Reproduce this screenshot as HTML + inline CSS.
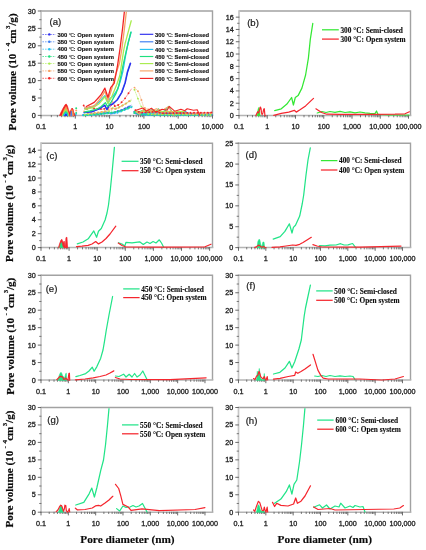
<!DOCTYPE html><html><head><meta charset="utf-8"><style>html,body{margin:0;padding:0;background:#fff}svg{display:block;will-change:transform}</style></head><body><svg width="426" height="550" viewBox="0 0 426 550">
<style>.tk{font:7.2px "Liberation Sans",sans-serif;fill:#222;stroke:#222;stroke-width:0.3}.pl{font:9.6px "Liberation Sans",sans-serif;fill:#1a1a1a;stroke:#1a1a1a;stroke-width:0.2}.lgs{font:bold 7.6px "Liberation Serif",serif;fill:#0a0a0a;stroke:#0a0a0a;stroke-width:0.1}.lga{font:bold 6.1px "Liberation Sans",sans-serif;fill:#111;stroke:#111;stroke-width:0.15}.deg{font-weight:normal;font-size:5px;fill:#444;letter-spacing:-0.4px}.ti{font:bold 11.1px "Liberation Serif",serif;fill:#0a0a0a;stroke:#0a0a0a;stroke-width:0.2}.ti .sup{font-size:7px}.xt{font:bold 11.3px "Liberation Serif",serif;fill:#0a0a0a;stroke:#0a0a0a;stroke-width:0.15}</style>
<rect width="426" height="550" fill="#fff"/>
<path d="M41,11H212.5V115.4" fill="none" stroke="#a2a2a2" stroke-width="1.4"/>
<path d="M41,10.15V115.4" fill="none" stroke="#c6c6c6" stroke-width="1.7"/>
<path d="M40.15,115.4H213.35" fill="none" stroke="#b4b4b4" stroke-width="1.5"/>
<line x1="37.8" y1="115.4" x2="41.4" y2="115.4" stroke="#5a5a5a" stroke-width="0.9"/>
<text x="35.7" y="117.9" text-anchor="end" class="tk">0</text>
<line x1="37.8" y1="98" x2="41.4" y2="98" stroke="#5a5a5a" stroke-width="0.9"/>
<text x="35.7" y="100.5" text-anchor="end" class="tk">5</text>
<line x1="37.8" y1="80.6" x2="41.4" y2="80.6" stroke="#5a5a5a" stroke-width="0.9"/>
<text x="35.7" y="83.1" text-anchor="end" class="tk">10</text>
<line x1="37.8" y1="63.2" x2="41.4" y2="63.2" stroke="#5a5a5a" stroke-width="0.9"/>
<text x="35.7" y="65.7" text-anchor="end" class="tk">15</text>
<line x1="37.8" y1="45.8" x2="41.4" y2="45.8" stroke="#5a5a5a" stroke-width="0.9"/>
<text x="35.7" y="48.3" text-anchor="end" class="tk">20</text>
<line x1="37.8" y1="28.4" x2="41.4" y2="28.4" stroke="#5a5a5a" stroke-width="0.9"/>
<text x="35.7" y="30.9" text-anchor="end" class="tk">25</text>
<line x1="37.8" y1="11" x2="41.4" y2="11" stroke="#5a5a5a" stroke-width="0.9"/>
<text x="35.7" y="13.5" text-anchor="end" class="tk">30</text>
<line x1="39.2" y1="106.7" x2="41.4" y2="106.7" stroke="#5a5a5a" stroke-width="0.8"/>
<line x1="39.2" y1="89.3" x2="41.4" y2="89.3" stroke="#5a5a5a" stroke-width="0.8"/>
<line x1="39.2" y1="71.9" x2="41.4" y2="71.9" stroke="#5a5a5a" stroke-width="0.8"/>
<line x1="39.2" y1="54.5" x2="41.4" y2="54.5" stroke="#5a5a5a" stroke-width="0.8"/>
<line x1="39.2" y1="37.1" x2="41.4" y2="37.1" stroke="#5a5a5a" stroke-width="0.8"/>
<line x1="39.2" y1="19.7" x2="41.4" y2="19.7" stroke="#5a5a5a" stroke-width="0.8"/>
<line x1="41" y1="115" x2="41" y2="118.6" stroke="#5a5a5a" stroke-width="0.9"/>
<text x="41" y="129" text-anchor="middle" class="tk">0.1</text>
<line x1="51.33" y1="115" x2="51.33" y2="117.2" stroke="#5a5a5a" stroke-width="0.8"/>
<line x1="57.37" y1="115" x2="57.37" y2="117.2" stroke="#5a5a5a" stroke-width="0.8"/>
<line x1="61.65" y1="115" x2="61.65" y2="117.2" stroke="#5a5a5a" stroke-width="0.8"/>
<line x1="64.97" y1="115" x2="64.97" y2="117.2" stroke="#5a5a5a" stroke-width="0.8"/>
<line x1="67.69" y1="115" x2="67.69" y2="117.2" stroke="#5a5a5a" stroke-width="0.8"/>
<line x1="69.99" y1="115" x2="69.99" y2="117.2" stroke="#5a5a5a" stroke-width="0.8"/>
<line x1="71.98" y1="115" x2="71.98" y2="117.2" stroke="#5a5a5a" stroke-width="0.8"/>
<line x1="73.73" y1="115" x2="73.73" y2="117.2" stroke="#5a5a5a" stroke-width="0.8"/>
<line x1="75.3" y1="115" x2="75.3" y2="118.6" stroke="#5a5a5a" stroke-width="0.9"/>
<text x="75.3" y="129" text-anchor="middle" class="tk">1</text>
<line x1="85.63" y1="115" x2="85.63" y2="117.2" stroke="#5a5a5a" stroke-width="0.8"/>
<line x1="91.67" y1="115" x2="91.67" y2="117.2" stroke="#5a5a5a" stroke-width="0.8"/>
<line x1="95.95" y1="115" x2="95.95" y2="117.2" stroke="#5a5a5a" stroke-width="0.8"/>
<line x1="99.27" y1="115" x2="99.27" y2="117.2" stroke="#5a5a5a" stroke-width="0.8"/>
<line x1="101.99" y1="115" x2="101.99" y2="117.2" stroke="#5a5a5a" stroke-width="0.8"/>
<line x1="104.29" y1="115" x2="104.29" y2="117.2" stroke="#5a5a5a" stroke-width="0.8"/>
<line x1="106.28" y1="115" x2="106.28" y2="117.2" stroke="#5a5a5a" stroke-width="0.8"/>
<line x1="108.03" y1="115" x2="108.03" y2="117.2" stroke="#5a5a5a" stroke-width="0.8"/>
<line x1="109.6" y1="115" x2="109.6" y2="118.6" stroke="#5a5a5a" stroke-width="0.9"/>
<text x="109.6" y="129" text-anchor="middle" class="tk">10</text>
<line x1="119.93" y1="115" x2="119.93" y2="117.2" stroke="#5a5a5a" stroke-width="0.8"/>
<line x1="125.97" y1="115" x2="125.97" y2="117.2" stroke="#5a5a5a" stroke-width="0.8"/>
<line x1="130.25" y1="115" x2="130.25" y2="117.2" stroke="#5a5a5a" stroke-width="0.8"/>
<line x1="133.57" y1="115" x2="133.57" y2="117.2" stroke="#5a5a5a" stroke-width="0.8"/>
<line x1="136.29" y1="115" x2="136.29" y2="117.2" stroke="#5a5a5a" stroke-width="0.8"/>
<line x1="138.59" y1="115" x2="138.59" y2="117.2" stroke="#5a5a5a" stroke-width="0.8"/>
<line x1="140.58" y1="115" x2="140.58" y2="117.2" stroke="#5a5a5a" stroke-width="0.8"/>
<line x1="142.33" y1="115" x2="142.33" y2="117.2" stroke="#5a5a5a" stroke-width="0.8"/>
<line x1="143.9" y1="115" x2="143.9" y2="118.6" stroke="#5a5a5a" stroke-width="0.9"/>
<text x="143.9" y="129" text-anchor="middle" class="tk">100</text>
<line x1="154.23" y1="115" x2="154.23" y2="117.2" stroke="#5a5a5a" stroke-width="0.8"/>
<line x1="160.27" y1="115" x2="160.27" y2="117.2" stroke="#5a5a5a" stroke-width="0.8"/>
<line x1="164.55" y1="115" x2="164.55" y2="117.2" stroke="#5a5a5a" stroke-width="0.8"/>
<line x1="167.87" y1="115" x2="167.87" y2="117.2" stroke="#5a5a5a" stroke-width="0.8"/>
<line x1="170.59" y1="115" x2="170.59" y2="117.2" stroke="#5a5a5a" stroke-width="0.8"/>
<line x1="172.89" y1="115" x2="172.89" y2="117.2" stroke="#5a5a5a" stroke-width="0.8"/>
<line x1="174.88" y1="115" x2="174.88" y2="117.2" stroke="#5a5a5a" stroke-width="0.8"/>
<line x1="176.63" y1="115" x2="176.63" y2="117.2" stroke="#5a5a5a" stroke-width="0.8"/>
<line x1="178.2" y1="115" x2="178.2" y2="118.6" stroke="#5a5a5a" stroke-width="0.9"/>
<text x="178.2" y="129" text-anchor="middle" class="tk">1,000</text>
<line x1="188.53" y1="115" x2="188.53" y2="117.2" stroke="#5a5a5a" stroke-width="0.8"/>
<line x1="194.57" y1="115" x2="194.57" y2="117.2" stroke="#5a5a5a" stroke-width="0.8"/>
<line x1="198.85" y1="115" x2="198.85" y2="117.2" stroke="#5a5a5a" stroke-width="0.8"/>
<line x1="202.17" y1="115" x2="202.17" y2="117.2" stroke="#5a5a5a" stroke-width="0.8"/>
<line x1="204.89" y1="115" x2="204.89" y2="117.2" stroke="#5a5a5a" stroke-width="0.8"/>
<line x1="207.19" y1="115" x2="207.19" y2="117.2" stroke="#5a5a5a" stroke-width="0.8"/>
<line x1="209.18" y1="115" x2="209.18" y2="117.2" stroke="#5a5a5a" stroke-width="0.8"/>
<line x1="210.93" y1="115" x2="210.93" y2="117.2" stroke="#5a5a5a" stroke-width="0.8"/>
<line x1="212.5" y1="115" x2="212.5" y2="118.6" stroke="#5a5a5a" stroke-width="0.9"/>
<text x="212.5" y="129" text-anchor="middle" class="tk">10,000</text>
<path d="M239,11H410.5V115.5" fill="none" stroke="#a2a2a2" stroke-width="1.4"/>
<path d="M239,10.15V115.5" fill="none" stroke="#c6c6c6" stroke-width="1.7"/>
<path d="M238.15,115.5H411.35" fill="none" stroke="#b4b4b4" stroke-width="1.5"/>
<line x1="235.8" y1="115.5" x2="239.4" y2="115.5" stroke="#5a5a5a" stroke-width="0.9"/>
<text x="233.7" y="118" text-anchor="end" class="tk">0</text>
<line x1="235.8" y1="103.21" x2="239.4" y2="103.21" stroke="#5a5a5a" stroke-width="0.9"/>
<text x="233.7" y="105.71" text-anchor="end" class="tk">2</text>
<line x1="235.8" y1="90.91" x2="239.4" y2="90.91" stroke="#5a5a5a" stroke-width="0.9"/>
<text x="233.7" y="93.41" text-anchor="end" class="tk">4</text>
<line x1="235.8" y1="78.62" x2="239.4" y2="78.62" stroke="#5a5a5a" stroke-width="0.9"/>
<text x="233.7" y="81.12" text-anchor="end" class="tk">6</text>
<line x1="235.8" y1="66.32" x2="239.4" y2="66.32" stroke="#5a5a5a" stroke-width="0.9"/>
<text x="233.7" y="68.82" text-anchor="end" class="tk">8</text>
<line x1="235.8" y1="54.03" x2="239.4" y2="54.03" stroke="#5a5a5a" stroke-width="0.9"/>
<text x="233.7" y="56.53" text-anchor="end" class="tk">10</text>
<line x1="235.8" y1="41.74" x2="239.4" y2="41.74" stroke="#5a5a5a" stroke-width="0.9"/>
<text x="233.7" y="44.24" text-anchor="end" class="tk">12</text>
<line x1="235.8" y1="29.44" x2="239.4" y2="29.44" stroke="#5a5a5a" stroke-width="0.9"/>
<text x="233.7" y="31.94" text-anchor="end" class="tk">14</text>
<line x1="235.8" y1="17.15" x2="239.4" y2="17.15" stroke="#5a5a5a" stroke-width="0.9"/>
<text x="233.7" y="19.65" text-anchor="end" class="tk">16</text>
<line x1="237.2" y1="109.35" x2="239.4" y2="109.35" stroke="#5a5a5a" stroke-width="0.8"/>
<line x1="237.2" y1="97.06" x2="239.4" y2="97.06" stroke="#5a5a5a" stroke-width="0.8"/>
<line x1="237.2" y1="84.76" x2="239.4" y2="84.76" stroke="#5a5a5a" stroke-width="0.8"/>
<line x1="237.2" y1="72.47" x2="239.4" y2="72.47" stroke="#5a5a5a" stroke-width="0.8"/>
<line x1="237.2" y1="60.18" x2="239.4" y2="60.18" stroke="#5a5a5a" stroke-width="0.8"/>
<line x1="237.2" y1="47.88" x2="239.4" y2="47.88" stroke="#5a5a5a" stroke-width="0.8"/>
<line x1="237.2" y1="35.59" x2="239.4" y2="35.59" stroke="#5a5a5a" stroke-width="0.8"/>
<line x1="237.2" y1="23.29" x2="239.4" y2="23.29" stroke="#5a5a5a" stroke-width="0.8"/>
<line x1="239" y1="115.1" x2="239" y2="118.7" stroke="#5a5a5a" stroke-width="0.9"/>
<text x="239" y="129.1" text-anchor="middle" class="tk">0.1</text>
<line x1="247.5" y1="115.1" x2="247.5" y2="117.3" stroke="#5a5a5a" stroke-width="0.8"/>
<line x1="252.48" y1="115.1" x2="252.48" y2="117.3" stroke="#5a5a5a" stroke-width="0.8"/>
<line x1="256.01" y1="115.1" x2="256.01" y2="117.3" stroke="#5a5a5a" stroke-width="0.8"/>
<line x1="258.75" y1="115.1" x2="258.75" y2="117.3" stroke="#5a5a5a" stroke-width="0.8"/>
<line x1="260.98" y1="115.1" x2="260.98" y2="117.3" stroke="#5a5a5a" stroke-width="0.8"/>
<line x1="262.87" y1="115.1" x2="262.87" y2="117.3" stroke="#5a5a5a" stroke-width="0.8"/>
<line x1="264.51" y1="115.1" x2="264.51" y2="117.3" stroke="#5a5a5a" stroke-width="0.8"/>
<line x1="265.96" y1="115.1" x2="265.96" y2="117.3" stroke="#5a5a5a" stroke-width="0.8"/>
<line x1="267.25" y1="115.1" x2="267.25" y2="118.7" stroke="#5a5a5a" stroke-width="0.9"/>
<text x="267.25" y="129.1" text-anchor="middle" class="tk">1</text>
<line x1="275.75" y1="115.1" x2="275.75" y2="117.3" stroke="#5a5a5a" stroke-width="0.8"/>
<line x1="280.73" y1="115.1" x2="280.73" y2="117.3" stroke="#5a5a5a" stroke-width="0.8"/>
<line x1="284.26" y1="115.1" x2="284.26" y2="117.3" stroke="#5a5a5a" stroke-width="0.8"/>
<line x1="287" y1="115.1" x2="287" y2="117.3" stroke="#5a5a5a" stroke-width="0.8"/>
<line x1="289.23" y1="115.1" x2="289.23" y2="117.3" stroke="#5a5a5a" stroke-width="0.8"/>
<line x1="291.12" y1="115.1" x2="291.12" y2="117.3" stroke="#5a5a5a" stroke-width="0.8"/>
<line x1="292.76" y1="115.1" x2="292.76" y2="117.3" stroke="#5a5a5a" stroke-width="0.8"/>
<line x1="294.21" y1="115.1" x2="294.21" y2="117.3" stroke="#5a5a5a" stroke-width="0.8"/>
<line x1="295.5" y1="115.1" x2="295.5" y2="118.7" stroke="#5a5a5a" stroke-width="0.9"/>
<text x="295.5" y="129.1" text-anchor="middle" class="tk">10</text>
<line x1="304" y1="115.1" x2="304" y2="117.3" stroke="#5a5a5a" stroke-width="0.8"/>
<line x1="308.98" y1="115.1" x2="308.98" y2="117.3" stroke="#5a5a5a" stroke-width="0.8"/>
<line x1="312.51" y1="115.1" x2="312.51" y2="117.3" stroke="#5a5a5a" stroke-width="0.8"/>
<line x1="315.25" y1="115.1" x2="315.25" y2="117.3" stroke="#5a5a5a" stroke-width="0.8"/>
<line x1="317.48" y1="115.1" x2="317.48" y2="117.3" stroke="#5a5a5a" stroke-width="0.8"/>
<line x1="319.37" y1="115.1" x2="319.37" y2="117.3" stroke="#5a5a5a" stroke-width="0.8"/>
<line x1="321.01" y1="115.1" x2="321.01" y2="117.3" stroke="#5a5a5a" stroke-width="0.8"/>
<line x1="322.46" y1="115.1" x2="322.46" y2="117.3" stroke="#5a5a5a" stroke-width="0.8"/>
<line x1="323.75" y1="115.1" x2="323.75" y2="118.7" stroke="#5a5a5a" stroke-width="0.9"/>
<text x="323.75" y="129.1" text-anchor="middle" class="tk">100</text>
<line x1="332.25" y1="115.1" x2="332.25" y2="117.3" stroke="#5a5a5a" stroke-width="0.8"/>
<line x1="337.23" y1="115.1" x2="337.23" y2="117.3" stroke="#5a5a5a" stroke-width="0.8"/>
<line x1="340.76" y1="115.1" x2="340.76" y2="117.3" stroke="#5a5a5a" stroke-width="0.8"/>
<line x1="343.5" y1="115.1" x2="343.5" y2="117.3" stroke="#5a5a5a" stroke-width="0.8"/>
<line x1="345.73" y1="115.1" x2="345.73" y2="117.3" stroke="#5a5a5a" stroke-width="0.8"/>
<line x1="347.62" y1="115.1" x2="347.62" y2="117.3" stroke="#5a5a5a" stroke-width="0.8"/>
<line x1="349.26" y1="115.1" x2="349.26" y2="117.3" stroke="#5a5a5a" stroke-width="0.8"/>
<line x1="350.71" y1="115.1" x2="350.71" y2="117.3" stroke="#5a5a5a" stroke-width="0.8"/>
<line x1="352" y1="115.1" x2="352" y2="118.7" stroke="#5a5a5a" stroke-width="0.9"/>
<text x="352" y="129.1" text-anchor="middle" class="tk">1,000</text>
<line x1="360.5" y1="115.1" x2="360.5" y2="117.3" stroke="#5a5a5a" stroke-width="0.8"/>
<line x1="365.48" y1="115.1" x2="365.48" y2="117.3" stroke="#5a5a5a" stroke-width="0.8"/>
<line x1="369.01" y1="115.1" x2="369.01" y2="117.3" stroke="#5a5a5a" stroke-width="0.8"/>
<line x1="371.75" y1="115.1" x2="371.75" y2="117.3" stroke="#5a5a5a" stroke-width="0.8"/>
<line x1="373.98" y1="115.1" x2="373.98" y2="117.3" stroke="#5a5a5a" stroke-width="0.8"/>
<line x1="375.87" y1="115.1" x2="375.87" y2="117.3" stroke="#5a5a5a" stroke-width="0.8"/>
<line x1="377.51" y1="115.1" x2="377.51" y2="117.3" stroke="#5a5a5a" stroke-width="0.8"/>
<line x1="378.96" y1="115.1" x2="378.96" y2="117.3" stroke="#5a5a5a" stroke-width="0.8"/>
<line x1="380.25" y1="115.1" x2="380.25" y2="118.7" stroke="#5a5a5a" stroke-width="0.9"/>
<text x="380.25" y="129.1" text-anchor="middle" class="tk">10,000</text>
<line x1="388.75" y1="115.1" x2="388.75" y2="117.3" stroke="#5a5a5a" stroke-width="0.8"/>
<line x1="393.73" y1="115.1" x2="393.73" y2="117.3" stroke="#5a5a5a" stroke-width="0.8"/>
<line x1="397.26" y1="115.1" x2="397.26" y2="117.3" stroke="#5a5a5a" stroke-width="0.8"/>
<line x1="400" y1="115.1" x2="400" y2="117.3" stroke="#5a5a5a" stroke-width="0.8"/>
<line x1="402.23" y1="115.1" x2="402.23" y2="117.3" stroke="#5a5a5a" stroke-width="0.8"/>
<line x1="404.12" y1="115.1" x2="404.12" y2="117.3" stroke="#5a5a5a" stroke-width="0.8"/>
<line x1="405.76" y1="115.1" x2="405.76" y2="117.3" stroke="#5a5a5a" stroke-width="0.8"/>
<line x1="407.21" y1="115.1" x2="407.21" y2="117.3" stroke="#5a5a5a" stroke-width="0.8"/>
<line x1="408.5" y1="115.1" x2="408.5" y2="118.7" stroke="#5a5a5a" stroke-width="0.9"/>
<text x="408.5" y="129.1" text-anchor="middle" class="tk">100,000</text>
<path d="M41,143.2H212.5V247.6" fill="none" stroke="#a2a2a2" stroke-width="1.4"/>
<path d="M41,142.35V247.6" fill="none" stroke="#c6c6c6" stroke-width="1.7"/>
<path d="M40.15,247.6H213.35" fill="none" stroke="#b4b4b4" stroke-width="1.5"/>
<line x1="37.8" y1="247.6" x2="41.4" y2="247.6" stroke="#5a5a5a" stroke-width="0.9"/>
<text x="35.7" y="250.1" text-anchor="end" class="tk">0</text>
<line x1="37.8" y1="233.68" x2="41.4" y2="233.68" stroke="#5a5a5a" stroke-width="0.9"/>
<text x="35.7" y="236.18" text-anchor="end" class="tk">2</text>
<line x1="37.8" y1="219.76" x2="41.4" y2="219.76" stroke="#5a5a5a" stroke-width="0.9"/>
<text x="35.7" y="222.26" text-anchor="end" class="tk">4</text>
<line x1="37.8" y1="205.84" x2="41.4" y2="205.84" stroke="#5a5a5a" stroke-width="0.9"/>
<text x="35.7" y="208.34" text-anchor="end" class="tk">6</text>
<line x1="37.8" y1="191.92" x2="41.4" y2="191.92" stroke="#5a5a5a" stroke-width="0.9"/>
<text x="35.7" y="194.42" text-anchor="end" class="tk">8</text>
<line x1="37.8" y1="178" x2="41.4" y2="178" stroke="#5a5a5a" stroke-width="0.9"/>
<text x="35.7" y="180.5" text-anchor="end" class="tk">10</text>
<line x1="37.8" y1="164.08" x2="41.4" y2="164.08" stroke="#5a5a5a" stroke-width="0.9"/>
<text x="35.7" y="166.58" text-anchor="end" class="tk">12</text>
<line x1="37.8" y1="150.16" x2="41.4" y2="150.16" stroke="#5a5a5a" stroke-width="0.9"/>
<text x="35.7" y="152.66" text-anchor="end" class="tk">14</text>
<line x1="39.2" y1="240.64" x2="41.4" y2="240.64" stroke="#5a5a5a" stroke-width="0.8"/>
<line x1="39.2" y1="226.72" x2="41.4" y2="226.72" stroke="#5a5a5a" stroke-width="0.8"/>
<line x1="39.2" y1="212.8" x2="41.4" y2="212.8" stroke="#5a5a5a" stroke-width="0.8"/>
<line x1="39.2" y1="198.88" x2="41.4" y2="198.88" stroke="#5a5a5a" stroke-width="0.8"/>
<line x1="39.2" y1="184.96" x2="41.4" y2="184.96" stroke="#5a5a5a" stroke-width="0.8"/>
<line x1="39.2" y1="171.04" x2="41.4" y2="171.04" stroke="#5a5a5a" stroke-width="0.8"/>
<line x1="39.2" y1="157.12" x2="41.4" y2="157.12" stroke="#5a5a5a" stroke-width="0.8"/>
<line x1="41" y1="247.2" x2="41" y2="250.8" stroke="#5a5a5a" stroke-width="0.9"/>
<text x="41" y="261.2" text-anchor="middle" class="tk">0.1</text>
<line x1="49.46" y1="247.2" x2="49.46" y2="249.4" stroke="#5a5a5a" stroke-width="0.8"/>
<line x1="54.41" y1="247.2" x2="54.41" y2="249.4" stroke="#5a5a5a" stroke-width="0.8"/>
<line x1="57.92" y1="247.2" x2="57.92" y2="249.4" stroke="#5a5a5a" stroke-width="0.8"/>
<line x1="60.64" y1="247.2" x2="60.64" y2="249.4" stroke="#5a5a5a" stroke-width="0.8"/>
<line x1="62.87" y1="247.2" x2="62.87" y2="249.4" stroke="#5a5a5a" stroke-width="0.8"/>
<line x1="64.75" y1="247.2" x2="64.75" y2="249.4" stroke="#5a5a5a" stroke-width="0.8"/>
<line x1="66.38" y1="247.2" x2="66.38" y2="249.4" stroke="#5a5a5a" stroke-width="0.8"/>
<line x1="67.81" y1="247.2" x2="67.81" y2="249.4" stroke="#5a5a5a" stroke-width="0.8"/>
<line x1="69.1" y1="247.2" x2="69.1" y2="250.8" stroke="#5a5a5a" stroke-width="0.9"/>
<text x="69.1" y="261.2" text-anchor="middle" class="tk">1</text>
<line x1="77.56" y1="247.2" x2="77.56" y2="249.4" stroke="#5a5a5a" stroke-width="0.8"/>
<line x1="82.51" y1="247.2" x2="82.51" y2="249.4" stroke="#5a5a5a" stroke-width="0.8"/>
<line x1="86.02" y1="247.2" x2="86.02" y2="249.4" stroke="#5a5a5a" stroke-width="0.8"/>
<line x1="88.74" y1="247.2" x2="88.74" y2="249.4" stroke="#5a5a5a" stroke-width="0.8"/>
<line x1="90.97" y1="247.2" x2="90.97" y2="249.4" stroke="#5a5a5a" stroke-width="0.8"/>
<line x1="92.85" y1="247.2" x2="92.85" y2="249.4" stroke="#5a5a5a" stroke-width="0.8"/>
<line x1="94.48" y1="247.2" x2="94.48" y2="249.4" stroke="#5a5a5a" stroke-width="0.8"/>
<line x1="95.91" y1="247.2" x2="95.91" y2="249.4" stroke="#5a5a5a" stroke-width="0.8"/>
<line x1="97.2" y1="247.2" x2="97.2" y2="250.8" stroke="#5a5a5a" stroke-width="0.9"/>
<text x="97.2" y="261.2" text-anchor="middle" class="tk">10</text>
<line x1="105.66" y1="247.2" x2="105.66" y2="249.4" stroke="#5a5a5a" stroke-width="0.8"/>
<line x1="110.61" y1="247.2" x2="110.61" y2="249.4" stroke="#5a5a5a" stroke-width="0.8"/>
<line x1="114.12" y1="247.2" x2="114.12" y2="249.4" stroke="#5a5a5a" stroke-width="0.8"/>
<line x1="116.84" y1="247.2" x2="116.84" y2="249.4" stroke="#5a5a5a" stroke-width="0.8"/>
<line x1="119.07" y1="247.2" x2="119.07" y2="249.4" stroke="#5a5a5a" stroke-width="0.8"/>
<line x1="120.95" y1="247.2" x2="120.95" y2="249.4" stroke="#5a5a5a" stroke-width="0.8"/>
<line x1="122.58" y1="247.2" x2="122.58" y2="249.4" stroke="#5a5a5a" stroke-width="0.8"/>
<line x1="124.01" y1="247.2" x2="124.01" y2="249.4" stroke="#5a5a5a" stroke-width="0.8"/>
<line x1="125.3" y1="247.2" x2="125.3" y2="250.8" stroke="#5a5a5a" stroke-width="0.9"/>
<text x="125.3" y="261.2" text-anchor="middle" class="tk">100</text>
<line x1="133.76" y1="247.2" x2="133.76" y2="249.4" stroke="#5a5a5a" stroke-width="0.8"/>
<line x1="138.71" y1="247.2" x2="138.71" y2="249.4" stroke="#5a5a5a" stroke-width="0.8"/>
<line x1="142.22" y1="247.2" x2="142.22" y2="249.4" stroke="#5a5a5a" stroke-width="0.8"/>
<line x1="144.94" y1="247.2" x2="144.94" y2="249.4" stroke="#5a5a5a" stroke-width="0.8"/>
<line x1="147.17" y1="247.2" x2="147.17" y2="249.4" stroke="#5a5a5a" stroke-width="0.8"/>
<line x1="149.05" y1="247.2" x2="149.05" y2="249.4" stroke="#5a5a5a" stroke-width="0.8"/>
<line x1="150.68" y1="247.2" x2="150.68" y2="249.4" stroke="#5a5a5a" stroke-width="0.8"/>
<line x1="152.11" y1="247.2" x2="152.11" y2="249.4" stroke="#5a5a5a" stroke-width="0.8"/>
<line x1="153.4" y1="247.2" x2="153.4" y2="250.8" stroke="#5a5a5a" stroke-width="0.9"/>
<text x="153.4" y="261.2" text-anchor="middle" class="tk">1,000</text>
<line x1="161.86" y1="247.2" x2="161.86" y2="249.4" stroke="#5a5a5a" stroke-width="0.8"/>
<line x1="166.81" y1="247.2" x2="166.81" y2="249.4" stroke="#5a5a5a" stroke-width="0.8"/>
<line x1="170.32" y1="247.2" x2="170.32" y2="249.4" stroke="#5a5a5a" stroke-width="0.8"/>
<line x1="173.04" y1="247.2" x2="173.04" y2="249.4" stroke="#5a5a5a" stroke-width="0.8"/>
<line x1="175.27" y1="247.2" x2="175.27" y2="249.4" stroke="#5a5a5a" stroke-width="0.8"/>
<line x1="177.15" y1="247.2" x2="177.15" y2="249.4" stroke="#5a5a5a" stroke-width="0.8"/>
<line x1="178.78" y1="247.2" x2="178.78" y2="249.4" stroke="#5a5a5a" stroke-width="0.8"/>
<line x1="180.21" y1="247.2" x2="180.21" y2="249.4" stroke="#5a5a5a" stroke-width="0.8"/>
<line x1="181.5" y1="247.2" x2="181.5" y2="250.8" stroke="#5a5a5a" stroke-width="0.9"/>
<text x="181.5" y="261.2" text-anchor="middle" class="tk">10,000</text>
<line x1="189.96" y1="247.2" x2="189.96" y2="249.4" stroke="#5a5a5a" stroke-width="0.8"/>
<line x1="194.91" y1="247.2" x2="194.91" y2="249.4" stroke="#5a5a5a" stroke-width="0.8"/>
<line x1="198.42" y1="247.2" x2="198.42" y2="249.4" stroke="#5a5a5a" stroke-width="0.8"/>
<line x1="201.14" y1="247.2" x2="201.14" y2="249.4" stroke="#5a5a5a" stroke-width="0.8"/>
<line x1="203.37" y1="247.2" x2="203.37" y2="249.4" stroke="#5a5a5a" stroke-width="0.8"/>
<line x1="205.25" y1="247.2" x2="205.25" y2="249.4" stroke="#5a5a5a" stroke-width="0.8"/>
<line x1="206.88" y1="247.2" x2="206.88" y2="249.4" stroke="#5a5a5a" stroke-width="0.8"/>
<line x1="208.31" y1="247.2" x2="208.31" y2="249.4" stroke="#5a5a5a" stroke-width="0.8"/>
<line x1="209.6" y1="247.2" x2="209.6" y2="250.8" stroke="#5a5a5a" stroke-width="0.9"/>
<text x="209.6" y="261.2" text-anchor="middle" class="tk">100,000</text>
<path d="M238.5,143.2H410.5V247.6" fill="none" stroke="#a2a2a2" stroke-width="1.4"/>
<path d="M238.5,142.35V247.6" fill="none" stroke="#c6c6c6" stroke-width="1.7"/>
<path d="M237.65,247.6H411.35" fill="none" stroke="#b4b4b4" stroke-width="1.5"/>
<line x1="235.3" y1="247.6" x2="238.9" y2="247.6" stroke="#5a5a5a" stroke-width="0.9"/>
<text x="233.2" y="250.1" text-anchor="end" class="tk">0</text>
<line x1="235.3" y1="226.72" x2="238.9" y2="226.72" stroke="#5a5a5a" stroke-width="0.9"/>
<text x="233.2" y="229.22" text-anchor="end" class="tk">5</text>
<line x1="235.3" y1="205.84" x2="238.9" y2="205.84" stroke="#5a5a5a" stroke-width="0.9"/>
<text x="233.2" y="208.34" text-anchor="end" class="tk">10</text>
<line x1="235.3" y1="184.96" x2="238.9" y2="184.96" stroke="#5a5a5a" stroke-width="0.9"/>
<text x="233.2" y="187.46" text-anchor="end" class="tk">15</text>
<line x1="235.3" y1="164.08" x2="238.9" y2="164.08" stroke="#5a5a5a" stroke-width="0.9"/>
<text x="233.2" y="166.58" text-anchor="end" class="tk">20</text>
<line x1="235.3" y1="143.2" x2="238.9" y2="143.2" stroke="#5a5a5a" stroke-width="0.9"/>
<text x="233.2" y="145.7" text-anchor="end" class="tk">25</text>
<line x1="236.7" y1="237.16" x2="238.9" y2="237.16" stroke="#5a5a5a" stroke-width="0.8"/>
<line x1="236.7" y1="216.28" x2="238.9" y2="216.28" stroke="#5a5a5a" stroke-width="0.8"/>
<line x1="236.7" y1="195.4" x2="238.9" y2="195.4" stroke="#5a5a5a" stroke-width="0.8"/>
<line x1="236.7" y1="174.52" x2="238.9" y2="174.52" stroke="#5a5a5a" stroke-width="0.8"/>
<line x1="236.7" y1="153.64" x2="238.9" y2="153.64" stroke="#5a5a5a" stroke-width="0.8"/>
<line x1="238.5" y1="247.2" x2="238.5" y2="250.8" stroke="#5a5a5a" stroke-width="0.9"/>
<text x="238.5" y="261.2" text-anchor="middle" class="tk">0.1</text>
<line x1="246.73" y1="247.2" x2="246.73" y2="249.4" stroke="#5a5a5a" stroke-width="0.8"/>
<line x1="251.54" y1="247.2" x2="251.54" y2="249.4" stroke="#5a5a5a" stroke-width="0.8"/>
<line x1="254.95" y1="247.2" x2="254.95" y2="249.4" stroke="#5a5a5a" stroke-width="0.8"/>
<line x1="257.6" y1="247.2" x2="257.6" y2="249.4" stroke="#5a5a5a" stroke-width="0.8"/>
<line x1="259.77" y1="247.2" x2="259.77" y2="249.4" stroke="#5a5a5a" stroke-width="0.8"/>
<line x1="261.6" y1="247.2" x2="261.6" y2="249.4" stroke="#5a5a5a" stroke-width="0.8"/>
<line x1="263.18" y1="247.2" x2="263.18" y2="249.4" stroke="#5a5a5a" stroke-width="0.8"/>
<line x1="264.58" y1="247.2" x2="264.58" y2="249.4" stroke="#5a5a5a" stroke-width="0.8"/>
<line x1="265.83" y1="247.2" x2="265.83" y2="250.8" stroke="#5a5a5a" stroke-width="0.9"/>
<text x="265.83" y="261.2" text-anchor="middle" class="tk">1</text>
<line x1="274.06" y1="247.2" x2="274.06" y2="249.4" stroke="#5a5a5a" stroke-width="0.8"/>
<line x1="278.87" y1="247.2" x2="278.87" y2="249.4" stroke="#5a5a5a" stroke-width="0.8"/>
<line x1="282.28" y1="247.2" x2="282.28" y2="249.4" stroke="#5a5a5a" stroke-width="0.8"/>
<line x1="284.93" y1="247.2" x2="284.93" y2="249.4" stroke="#5a5a5a" stroke-width="0.8"/>
<line x1="287.1" y1="247.2" x2="287.1" y2="249.4" stroke="#5a5a5a" stroke-width="0.8"/>
<line x1="288.93" y1="247.2" x2="288.93" y2="249.4" stroke="#5a5a5a" stroke-width="0.8"/>
<line x1="290.51" y1="247.2" x2="290.51" y2="249.4" stroke="#5a5a5a" stroke-width="0.8"/>
<line x1="291.91" y1="247.2" x2="291.91" y2="249.4" stroke="#5a5a5a" stroke-width="0.8"/>
<line x1="293.16" y1="247.2" x2="293.16" y2="250.8" stroke="#5a5a5a" stroke-width="0.9"/>
<text x="293.16" y="261.2" text-anchor="middle" class="tk">10</text>
<line x1="301.39" y1="247.2" x2="301.39" y2="249.4" stroke="#5a5a5a" stroke-width="0.8"/>
<line x1="306.2" y1="247.2" x2="306.2" y2="249.4" stroke="#5a5a5a" stroke-width="0.8"/>
<line x1="309.61" y1="247.2" x2="309.61" y2="249.4" stroke="#5a5a5a" stroke-width="0.8"/>
<line x1="312.26" y1="247.2" x2="312.26" y2="249.4" stroke="#5a5a5a" stroke-width="0.8"/>
<line x1="314.43" y1="247.2" x2="314.43" y2="249.4" stroke="#5a5a5a" stroke-width="0.8"/>
<line x1="316.26" y1="247.2" x2="316.26" y2="249.4" stroke="#5a5a5a" stroke-width="0.8"/>
<line x1="317.84" y1="247.2" x2="317.84" y2="249.4" stroke="#5a5a5a" stroke-width="0.8"/>
<line x1="319.24" y1="247.2" x2="319.24" y2="249.4" stroke="#5a5a5a" stroke-width="0.8"/>
<line x1="320.49" y1="247.2" x2="320.49" y2="250.8" stroke="#5a5a5a" stroke-width="0.9"/>
<text x="320.49" y="261.2" text-anchor="middle" class="tk">100</text>
<line x1="328.72" y1="247.2" x2="328.72" y2="249.4" stroke="#5a5a5a" stroke-width="0.8"/>
<line x1="333.53" y1="247.2" x2="333.53" y2="249.4" stroke="#5a5a5a" stroke-width="0.8"/>
<line x1="336.94" y1="247.2" x2="336.94" y2="249.4" stroke="#5a5a5a" stroke-width="0.8"/>
<line x1="339.59" y1="247.2" x2="339.59" y2="249.4" stroke="#5a5a5a" stroke-width="0.8"/>
<line x1="341.76" y1="247.2" x2="341.76" y2="249.4" stroke="#5a5a5a" stroke-width="0.8"/>
<line x1="343.59" y1="247.2" x2="343.59" y2="249.4" stroke="#5a5a5a" stroke-width="0.8"/>
<line x1="345.17" y1="247.2" x2="345.17" y2="249.4" stroke="#5a5a5a" stroke-width="0.8"/>
<line x1="346.57" y1="247.2" x2="346.57" y2="249.4" stroke="#5a5a5a" stroke-width="0.8"/>
<line x1="347.82" y1="247.2" x2="347.82" y2="250.8" stroke="#5a5a5a" stroke-width="0.9"/>
<text x="347.82" y="261.2" text-anchor="middle" class="tk">1,000</text>
<line x1="356.05" y1="247.2" x2="356.05" y2="249.4" stroke="#5a5a5a" stroke-width="0.8"/>
<line x1="360.86" y1="247.2" x2="360.86" y2="249.4" stroke="#5a5a5a" stroke-width="0.8"/>
<line x1="364.27" y1="247.2" x2="364.27" y2="249.4" stroke="#5a5a5a" stroke-width="0.8"/>
<line x1="366.92" y1="247.2" x2="366.92" y2="249.4" stroke="#5a5a5a" stroke-width="0.8"/>
<line x1="369.09" y1="247.2" x2="369.09" y2="249.4" stroke="#5a5a5a" stroke-width="0.8"/>
<line x1="370.92" y1="247.2" x2="370.92" y2="249.4" stroke="#5a5a5a" stroke-width="0.8"/>
<line x1="372.5" y1="247.2" x2="372.5" y2="249.4" stroke="#5a5a5a" stroke-width="0.8"/>
<line x1="373.9" y1="247.2" x2="373.9" y2="249.4" stroke="#5a5a5a" stroke-width="0.8"/>
<line x1="375.15" y1="247.2" x2="375.15" y2="250.8" stroke="#5a5a5a" stroke-width="0.9"/>
<text x="375.15" y="261.2" text-anchor="middle" class="tk">10,000</text>
<line x1="383.38" y1="247.2" x2="383.38" y2="249.4" stroke="#5a5a5a" stroke-width="0.8"/>
<line x1="388.19" y1="247.2" x2="388.19" y2="249.4" stroke="#5a5a5a" stroke-width="0.8"/>
<line x1="391.6" y1="247.2" x2="391.6" y2="249.4" stroke="#5a5a5a" stroke-width="0.8"/>
<line x1="394.25" y1="247.2" x2="394.25" y2="249.4" stroke="#5a5a5a" stroke-width="0.8"/>
<line x1="396.42" y1="247.2" x2="396.42" y2="249.4" stroke="#5a5a5a" stroke-width="0.8"/>
<line x1="398.25" y1="247.2" x2="398.25" y2="249.4" stroke="#5a5a5a" stroke-width="0.8"/>
<line x1="399.83" y1="247.2" x2="399.83" y2="249.4" stroke="#5a5a5a" stroke-width="0.8"/>
<line x1="401.23" y1="247.2" x2="401.23" y2="249.4" stroke="#5a5a5a" stroke-width="0.8"/>
<line x1="402.48" y1="247.2" x2="402.48" y2="250.8" stroke="#5a5a5a" stroke-width="0.9"/>
<text x="402.48" y="261.2" text-anchor="middle" class="tk">100,000</text>
<path d="M41,275.3H212.5V380" fill="none" stroke="#a2a2a2" stroke-width="1.4"/>
<path d="M41,274.45V380" fill="none" stroke="#c6c6c6" stroke-width="1.7"/>
<path d="M40.15,380H213.35" fill="none" stroke="#b4b4b4" stroke-width="1.5"/>
<line x1="37.8" y1="380" x2="41.4" y2="380" stroke="#5a5a5a" stroke-width="0.9"/>
<text x="35.7" y="382.5" text-anchor="end" class="tk">0</text>
<line x1="37.8" y1="362.55" x2="41.4" y2="362.55" stroke="#5a5a5a" stroke-width="0.9"/>
<text x="35.7" y="365.05" text-anchor="end" class="tk">5</text>
<line x1="37.8" y1="345.1" x2="41.4" y2="345.1" stroke="#5a5a5a" stroke-width="0.9"/>
<text x="35.7" y="347.6" text-anchor="end" class="tk">10</text>
<line x1="37.8" y1="327.65" x2="41.4" y2="327.65" stroke="#5a5a5a" stroke-width="0.9"/>
<text x="35.7" y="330.15" text-anchor="end" class="tk">15</text>
<line x1="37.8" y1="310.2" x2="41.4" y2="310.2" stroke="#5a5a5a" stroke-width="0.9"/>
<text x="35.7" y="312.7" text-anchor="end" class="tk">20</text>
<line x1="37.8" y1="292.75" x2="41.4" y2="292.75" stroke="#5a5a5a" stroke-width="0.9"/>
<text x="35.7" y="295.25" text-anchor="end" class="tk">25</text>
<line x1="37.8" y1="275.3" x2="41.4" y2="275.3" stroke="#5a5a5a" stroke-width="0.9"/>
<text x="35.7" y="277.8" text-anchor="end" class="tk">30</text>
<line x1="39.2" y1="371.27" x2="41.4" y2="371.27" stroke="#5a5a5a" stroke-width="0.8"/>
<line x1="39.2" y1="353.82" x2="41.4" y2="353.82" stroke="#5a5a5a" stroke-width="0.8"/>
<line x1="39.2" y1="336.38" x2="41.4" y2="336.38" stroke="#5a5a5a" stroke-width="0.8"/>
<line x1="39.2" y1="318.93" x2="41.4" y2="318.93" stroke="#5a5a5a" stroke-width="0.8"/>
<line x1="39.2" y1="301.48" x2="41.4" y2="301.48" stroke="#5a5a5a" stroke-width="0.8"/>
<line x1="39.2" y1="284.03" x2="41.4" y2="284.03" stroke="#5a5a5a" stroke-width="0.8"/>
<line x1="41" y1="379.6" x2="41" y2="383.2" stroke="#5a5a5a" stroke-width="0.9"/>
<text x="41" y="393.6" text-anchor="middle" class="tk">0.1</text>
<line x1="49.23" y1="379.6" x2="49.23" y2="381.8" stroke="#5a5a5a" stroke-width="0.8"/>
<line x1="54.04" y1="379.6" x2="54.04" y2="381.8" stroke="#5a5a5a" stroke-width="0.8"/>
<line x1="57.45" y1="379.6" x2="57.45" y2="381.8" stroke="#5a5a5a" stroke-width="0.8"/>
<line x1="60.1" y1="379.6" x2="60.1" y2="381.8" stroke="#5a5a5a" stroke-width="0.8"/>
<line x1="62.27" y1="379.6" x2="62.27" y2="381.8" stroke="#5a5a5a" stroke-width="0.8"/>
<line x1="64.1" y1="379.6" x2="64.1" y2="381.8" stroke="#5a5a5a" stroke-width="0.8"/>
<line x1="65.68" y1="379.6" x2="65.68" y2="381.8" stroke="#5a5a5a" stroke-width="0.8"/>
<line x1="67.08" y1="379.6" x2="67.08" y2="381.8" stroke="#5a5a5a" stroke-width="0.8"/>
<line x1="68.33" y1="379.6" x2="68.33" y2="383.2" stroke="#5a5a5a" stroke-width="0.9"/>
<text x="68.33" y="393.6" text-anchor="middle" class="tk">1</text>
<line x1="76.56" y1="379.6" x2="76.56" y2="381.8" stroke="#5a5a5a" stroke-width="0.8"/>
<line x1="81.37" y1="379.6" x2="81.37" y2="381.8" stroke="#5a5a5a" stroke-width="0.8"/>
<line x1="84.78" y1="379.6" x2="84.78" y2="381.8" stroke="#5a5a5a" stroke-width="0.8"/>
<line x1="87.43" y1="379.6" x2="87.43" y2="381.8" stroke="#5a5a5a" stroke-width="0.8"/>
<line x1="89.6" y1="379.6" x2="89.6" y2="381.8" stroke="#5a5a5a" stroke-width="0.8"/>
<line x1="91.43" y1="379.6" x2="91.43" y2="381.8" stroke="#5a5a5a" stroke-width="0.8"/>
<line x1="93.01" y1="379.6" x2="93.01" y2="381.8" stroke="#5a5a5a" stroke-width="0.8"/>
<line x1="94.41" y1="379.6" x2="94.41" y2="381.8" stroke="#5a5a5a" stroke-width="0.8"/>
<line x1="95.66" y1="379.6" x2="95.66" y2="383.2" stroke="#5a5a5a" stroke-width="0.9"/>
<text x="95.66" y="393.6" text-anchor="middle" class="tk">10</text>
<line x1="103.89" y1="379.6" x2="103.89" y2="381.8" stroke="#5a5a5a" stroke-width="0.8"/>
<line x1="108.7" y1="379.6" x2="108.7" y2="381.8" stroke="#5a5a5a" stroke-width="0.8"/>
<line x1="112.11" y1="379.6" x2="112.11" y2="381.8" stroke="#5a5a5a" stroke-width="0.8"/>
<line x1="114.76" y1="379.6" x2="114.76" y2="381.8" stroke="#5a5a5a" stroke-width="0.8"/>
<line x1="116.93" y1="379.6" x2="116.93" y2="381.8" stroke="#5a5a5a" stroke-width="0.8"/>
<line x1="118.76" y1="379.6" x2="118.76" y2="381.8" stroke="#5a5a5a" stroke-width="0.8"/>
<line x1="120.34" y1="379.6" x2="120.34" y2="381.8" stroke="#5a5a5a" stroke-width="0.8"/>
<line x1="121.74" y1="379.6" x2="121.74" y2="381.8" stroke="#5a5a5a" stroke-width="0.8"/>
<line x1="122.99" y1="379.6" x2="122.99" y2="383.2" stroke="#5a5a5a" stroke-width="0.9"/>
<text x="122.99" y="393.6" text-anchor="middle" class="tk">100</text>
<line x1="131.22" y1="379.6" x2="131.22" y2="381.8" stroke="#5a5a5a" stroke-width="0.8"/>
<line x1="136.03" y1="379.6" x2="136.03" y2="381.8" stroke="#5a5a5a" stroke-width="0.8"/>
<line x1="139.44" y1="379.6" x2="139.44" y2="381.8" stroke="#5a5a5a" stroke-width="0.8"/>
<line x1="142.09" y1="379.6" x2="142.09" y2="381.8" stroke="#5a5a5a" stroke-width="0.8"/>
<line x1="144.26" y1="379.6" x2="144.26" y2="381.8" stroke="#5a5a5a" stroke-width="0.8"/>
<line x1="146.09" y1="379.6" x2="146.09" y2="381.8" stroke="#5a5a5a" stroke-width="0.8"/>
<line x1="147.67" y1="379.6" x2="147.67" y2="381.8" stroke="#5a5a5a" stroke-width="0.8"/>
<line x1="149.07" y1="379.6" x2="149.07" y2="381.8" stroke="#5a5a5a" stroke-width="0.8"/>
<line x1="150.32" y1="379.6" x2="150.32" y2="383.2" stroke="#5a5a5a" stroke-width="0.9"/>
<text x="150.32" y="393.6" text-anchor="middle" class="tk">1,000</text>
<line x1="158.55" y1="379.6" x2="158.55" y2="381.8" stroke="#5a5a5a" stroke-width="0.8"/>
<line x1="163.36" y1="379.6" x2="163.36" y2="381.8" stroke="#5a5a5a" stroke-width="0.8"/>
<line x1="166.77" y1="379.6" x2="166.77" y2="381.8" stroke="#5a5a5a" stroke-width="0.8"/>
<line x1="169.42" y1="379.6" x2="169.42" y2="381.8" stroke="#5a5a5a" stroke-width="0.8"/>
<line x1="171.59" y1="379.6" x2="171.59" y2="381.8" stroke="#5a5a5a" stroke-width="0.8"/>
<line x1="173.42" y1="379.6" x2="173.42" y2="381.8" stroke="#5a5a5a" stroke-width="0.8"/>
<line x1="175" y1="379.6" x2="175" y2="381.8" stroke="#5a5a5a" stroke-width="0.8"/>
<line x1="176.4" y1="379.6" x2="176.4" y2="381.8" stroke="#5a5a5a" stroke-width="0.8"/>
<line x1="177.65" y1="379.6" x2="177.65" y2="383.2" stroke="#5a5a5a" stroke-width="0.9"/>
<text x="177.65" y="393.6" text-anchor="middle" class="tk">10,000</text>
<line x1="185.88" y1="379.6" x2="185.88" y2="381.8" stroke="#5a5a5a" stroke-width="0.8"/>
<line x1="190.69" y1="379.6" x2="190.69" y2="381.8" stroke="#5a5a5a" stroke-width="0.8"/>
<line x1="194.1" y1="379.6" x2="194.1" y2="381.8" stroke="#5a5a5a" stroke-width="0.8"/>
<line x1="196.75" y1="379.6" x2="196.75" y2="381.8" stroke="#5a5a5a" stroke-width="0.8"/>
<line x1="198.92" y1="379.6" x2="198.92" y2="381.8" stroke="#5a5a5a" stroke-width="0.8"/>
<line x1="200.75" y1="379.6" x2="200.75" y2="381.8" stroke="#5a5a5a" stroke-width="0.8"/>
<line x1="202.33" y1="379.6" x2="202.33" y2="381.8" stroke="#5a5a5a" stroke-width="0.8"/>
<line x1="203.73" y1="379.6" x2="203.73" y2="381.8" stroke="#5a5a5a" stroke-width="0.8"/>
<line x1="204.98" y1="379.6" x2="204.98" y2="383.2" stroke="#5a5a5a" stroke-width="0.9"/>
<text x="204.98" y="393.6" text-anchor="middle" class="tk">100,000</text>
<path d="M238.5,275.3H410.5V380" fill="none" stroke="#a2a2a2" stroke-width="1.4"/>
<path d="M238.5,274.45V380" fill="none" stroke="#c6c6c6" stroke-width="1.7"/>
<path d="M237.65,380H411.35" fill="none" stroke="#b4b4b4" stroke-width="1.5"/>
<line x1="235.3" y1="380" x2="238.9" y2="380" stroke="#5a5a5a" stroke-width="0.9"/>
<text x="233.2" y="382.5" text-anchor="end" class="tk">0</text>
<line x1="235.3" y1="362.55" x2="238.9" y2="362.55" stroke="#5a5a5a" stroke-width="0.9"/>
<text x="233.2" y="365.05" text-anchor="end" class="tk">5</text>
<line x1="235.3" y1="345.1" x2="238.9" y2="345.1" stroke="#5a5a5a" stroke-width="0.9"/>
<text x="233.2" y="347.6" text-anchor="end" class="tk">10</text>
<line x1="235.3" y1="327.65" x2="238.9" y2="327.65" stroke="#5a5a5a" stroke-width="0.9"/>
<text x="233.2" y="330.15" text-anchor="end" class="tk">15</text>
<line x1="235.3" y1="310.2" x2="238.9" y2="310.2" stroke="#5a5a5a" stroke-width="0.9"/>
<text x="233.2" y="312.7" text-anchor="end" class="tk">20</text>
<line x1="235.3" y1="292.75" x2="238.9" y2="292.75" stroke="#5a5a5a" stroke-width="0.9"/>
<text x="233.2" y="295.25" text-anchor="end" class="tk">25</text>
<line x1="235.3" y1="275.3" x2="238.9" y2="275.3" stroke="#5a5a5a" stroke-width="0.9"/>
<text x="233.2" y="277.8" text-anchor="end" class="tk">30</text>
<line x1="236.7" y1="371.27" x2="238.9" y2="371.27" stroke="#5a5a5a" stroke-width="0.8"/>
<line x1="236.7" y1="353.82" x2="238.9" y2="353.82" stroke="#5a5a5a" stroke-width="0.8"/>
<line x1="236.7" y1="336.38" x2="238.9" y2="336.38" stroke="#5a5a5a" stroke-width="0.8"/>
<line x1="236.7" y1="318.93" x2="238.9" y2="318.93" stroke="#5a5a5a" stroke-width="0.8"/>
<line x1="236.7" y1="301.48" x2="238.9" y2="301.48" stroke="#5a5a5a" stroke-width="0.8"/>
<line x1="236.7" y1="284.03" x2="238.9" y2="284.03" stroke="#5a5a5a" stroke-width="0.8"/>
<line x1="238.5" y1="379.6" x2="238.5" y2="383.2" stroke="#5a5a5a" stroke-width="0.9"/>
<text x="238.5" y="393.6" text-anchor="middle" class="tk">0.1</text>
<line x1="246.73" y1="379.6" x2="246.73" y2="381.8" stroke="#5a5a5a" stroke-width="0.8"/>
<line x1="251.54" y1="379.6" x2="251.54" y2="381.8" stroke="#5a5a5a" stroke-width="0.8"/>
<line x1="254.95" y1="379.6" x2="254.95" y2="381.8" stroke="#5a5a5a" stroke-width="0.8"/>
<line x1="257.6" y1="379.6" x2="257.6" y2="381.8" stroke="#5a5a5a" stroke-width="0.8"/>
<line x1="259.77" y1="379.6" x2="259.77" y2="381.8" stroke="#5a5a5a" stroke-width="0.8"/>
<line x1="261.6" y1="379.6" x2="261.6" y2="381.8" stroke="#5a5a5a" stroke-width="0.8"/>
<line x1="263.18" y1="379.6" x2="263.18" y2="381.8" stroke="#5a5a5a" stroke-width="0.8"/>
<line x1="264.58" y1="379.6" x2="264.58" y2="381.8" stroke="#5a5a5a" stroke-width="0.8"/>
<line x1="265.83" y1="379.6" x2="265.83" y2="383.2" stroke="#5a5a5a" stroke-width="0.9"/>
<text x="265.83" y="393.6" text-anchor="middle" class="tk">1</text>
<line x1="274.06" y1="379.6" x2="274.06" y2="381.8" stroke="#5a5a5a" stroke-width="0.8"/>
<line x1="278.87" y1="379.6" x2="278.87" y2="381.8" stroke="#5a5a5a" stroke-width="0.8"/>
<line x1="282.28" y1="379.6" x2="282.28" y2="381.8" stroke="#5a5a5a" stroke-width="0.8"/>
<line x1="284.93" y1="379.6" x2="284.93" y2="381.8" stroke="#5a5a5a" stroke-width="0.8"/>
<line x1="287.1" y1="379.6" x2="287.1" y2="381.8" stroke="#5a5a5a" stroke-width="0.8"/>
<line x1="288.93" y1="379.6" x2="288.93" y2="381.8" stroke="#5a5a5a" stroke-width="0.8"/>
<line x1="290.51" y1="379.6" x2="290.51" y2="381.8" stroke="#5a5a5a" stroke-width="0.8"/>
<line x1="291.91" y1="379.6" x2="291.91" y2="381.8" stroke="#5a5a5a" stroke-width="0.8"/>
<line x1="293.16" y1="379.6" x2="293.16" y2="383.2" stroke="#5a5a5a" stroke-width="0.9"/>
<text x="293.16" y="393.6" text-anchor="middle" class="tk">10</text>
<line x1="301.39" y1="379.6" x2="301.39" y2="381.8" stroke="#5a5a5a" stroke-width="0.8"/>
<line x1="306.2" y1="379.6" x2="306.2" y2="381.8" stroke="#5a5a5a" stroke-width="0.8"/>
<line x1="309.61" y1="379.6" x2="309.61" y2="381.8" stroke="#5a5a5a" stroke-width="0.8"/>
<line x1="312.26" y1="379.6" x2="312.26" y2="381.8" stroke="#5a5a5a" stroke-width="0.8"/>
<line x1="314.43" y1="379.6" x2="314.43" y2="381.8" stroke="#5a5a5a" stroke-width="0.8"/>
<line x1="316.26" y1="379.6" x2="316.26" y2="381.8" stroke="#5a5a5a" stroke-width="0.8"/>
<line x1="317.84" y1="379.6" x2="317.84" y2="381.8" stroke="#5a5a5a" stroke-width="0.8"/>
<line x1="319.24" y1="379.6" x2="319.24" y2="381.8" stroke="#5a5a5a" stroke-width="0.8"/>
<line x1="320.49" y1="379.6" x2="320.49" y2="383.2" stroke="#5a5a5a" stroke-width="0.9"/>
<text x="320.49" y="393.6" text-anchor="middle" class="tk">100</text>
<line x1="328.72" y1="379.6" x2="328.72" y2="381.8" stroke="#5a5a5a" stroke-width="0.8"/>
<line x1="333.53" y1="379.6" x2="333.53" y2="381.8" stroke="#5a5a5a" stroke-width="0.8"/>
<line x1="336.94" y1="379.6" x2="336.94" y2="381.8" stroke="#5a5a5a" stroke-width="0.8"/>
<line x1="339.59" y1="379.6" x2="339.59" y2="381.8" stroke="#5a5a5a" stroke-width="0.8"/>
<line x1="341.76" y1="379.6" x2="341.76" y2="381.8" stroke="#5a5a5a" stroke-width="0.8"/>
<line x1="343.59" y1="379.6" x2="343.59" y2="381.8" stroke="#5a5a5a" stroke-width="0.8"/>
<line x1="345.17" y1="379.6" x2="345.17" y2="381.8" stroke="#5a5a5a" stroke-width="0.8"/>
<line x1="346.57" y1="379.6" x2="346.57" y2="381.8" stroke="#5a5a5a" stroke-width="0.8"/>
<line x1="347.82" y1="379.6" x2="347.82" y2="383.2" stroke="#5a5a5a" stroke-width="0.9"/>
<text x="347.82" y="393.6" text-anchor="middle" class="tk">1,000</text>
<line x1="356.05" y1="379.6" x2="356.05" y2="381.8" stroke="#5a5a5a" stroke-width="0.8"/>
<line x1="360.86" y1="379.6" x2="360.86" y2="381.8" stroke="#5a5a5a" stroke-width="0.8"/>
<line x1="364.27" y1="379.6" x2="364.27" y2="381.8" stroke="#5a5a5a" stroke-width="0.8"/>
<line x1="366.92" y1="379.6" x2="366.92" y2="381.8" stroke="#5a5a5a" stroke-width="0.8"/>
<line x1="369.09" y1="379.6" x2="369.09" y2="381.8" stroke="#5a5a5a" stroke-width="0.8"/>
<line x1="370.92" y1="379.6" x2="370.92" y2="381.8" stroke="#5a5a5a" stroke-width="0.8"/>
<line x1="372.5" y1="379.6" x2="372.5" y2="381.8" stroke="#5a5a5a" stroke-width="0.8"/>
<line x1="373.9" y1="379.6" x2="373.9" y2="381.8" stroke="#5a5a5a" stroke-width="0.8"/>
<line x1="375.15" y1="379.6" x2="375.15" y2="383.2" stroke="#5a5a5a" stroke-width="0.9"/>
<text x="375.15" y="393.6" text-anchor="middle" class="tk">10,000</text>
<line x1="383.38" y1="379.6" x2="383.38" y2="381.8" stroke="#5a5a5a" stroke-width="0.8"/>
<line x1="388.19" y1="379.6" x2="388.19" y2="381.8" stroke="#5a5a5a" stroke-width="0.8"/>
<line x1="391.6" y1="379.6" x2="391.6" y2="381.8" stroke="#5a5a5a" stroke-width="0.8"/>
<line x1="394.25" y1="379.6" x2="394.25" y2="381.8" stroke="#5a5a5a" stroke-width="0.8"/>
<line x1="396.42" y1="379.6" x2="396.42" y2="381.8" stroke="#5a5a5a" stroke-width="0.8"/>
<line x1="398.25" y1="379.6" x2="398.25" y2="381.8" stroke="#5a5a5a" stroke-width="0.8"/>
<line x1="399.83" y1="379.6" x2="399.83" y2="381.8" stroke="#5a5a5a" stroke-width="0.8"/>
<line x1="401.23" y1="379.6" x2="401.23" y2="381.8" stroke="#5a5a5a" stroke-width="0.8"/>
<line x1="402.48" y1="379.6" x2="402.48" y2="383.2" stroke="#5a5a5a" stroke-width="0.9"/>
<text x="402.48" y="393.6" text-anchor="middle" class="tk">100,000</text>
<path d="M41,407.5H212.5V512.2" fill="none" stroke="#a2a2a2" stroke-width="1.4"/>
<path d="M41,406.65V512.2" fill="none" stroke="#c6c6c6" stroke-width="1.7"/>
<path d="M40.15,512.2H213.35" fill="none" stroke="#b4b4b4" stroke-width="1.5"/>
<line x1="37.8" y1="512.2" x2="41.4" y2="512.2" stroke="#5a5a5a" stroke-width="0.9"/>
<text x="35.7" y="514.7" text-anchor="end" class="tk">0</text>
<line x1="37.8" y1="494.75" x2="41.4" y2="494.75" stroke="#5a5a5a" stroke-width="0.9"/>
<text x="35.7" y="497.25" text-anchor="end" class="tk">5</text>
<line x1="37.8" y1="477.3" x2="41.4" y2="477.3" stroke="#5a5a5a" stroke-width="0.9"/>
<text x="35.7" y="479.8" text-anchor="end" class="tk">10</text>
<line x1="37.8" y1="459.85" x2="41.4" y2="459.85" stroke="#5a5a5a" stroke-width="0.9"/>
<text x="35.7" y="462.35" text-anchor="end" class="tk">15</text>
<line x1="37.8" y1="442.4" x2="41.4" y2="442.4" stroke="#5a5a5a" stroke-width="0.9"/>
<text x="35.7" y="444.9" text-anchor="end" class="tk">20</text>
<line x1="37.8" y1="424.95" x2="41.4" y2="424.95" stroke="#5a5a5a" stroke-width="0.9"/>
<text x="35.7" y="427.45" text-anchor="end" class="tk">25</text>
<line x1="37.8" y1="407.5" x2="41.4" y2="407.5" stroke="#5a5a5a" stroke-width="0.9"/>
<text x="35.7" y="410" text-anchor="end" class="tk">30</text>
<line x1="39.2" y1="503.48" x2="41.4" y2="503.48" stroke="#5a5a5a" stroke-width="0.8"/>
<line x1="39.2" y1="486.03" x2="41.4" y2="486.03" stroke="#5a5a5a" stroke-width="0.8"/>
<line x1="39.2" y1="468.58" x2="41.4" y2="468.58" stroke="#5a5a5a" stroke-width="0.8"/>
<line x1="39.2" y1="451.12" x2="41.4" y2="451.12" stroke="#5a5a5a" stroke-width="0.8"/>
<line x1="39.2" y1="433.68" x2="41.4" y2="433.68" stroke="#5a5a5a" stroke-width="0.8"/>
<line x1="39.2" y1="416.23" x2="41.4" y2="416.23" stroke="#5a5a5a" stroke-width="0.8"/>
<line x1="41" y1="511.8" x2="41" y2="515.4" stroke="#5a5a5a" stroke-width="0.9"/>
<text x="41" y="525.8" text-anchor="middle" class="tk">0.1</text>
<line x1="49.23" y1="511.8" x2="49.23" y2="514" stroke="#5a5a5a" stroke-width="0.8"/>
<line x1="54.04" y1="511.8" x2="54.04" y2="514" stroke="#5a5a5a" stroke-width="0.8"/>
<line x1="57.45" y1="511.8" x2="57.45" y2="514" stroke="#5a5a5a" stroke-width="0.8"/>
<line x1="60.1" y1="511.8" x2="60.1" y2="514" stroke="#5a5a5a" stroke-width="0.8"/>
<line x1="62.27" y1="511.8" x2="62.27" y2="514" stroke="#5a5a5a" stroke-width="0.8"/>
<line x1="64.1" y1="511.8" x2="64.1" y2="514" stroke="#5a5a5a" stroke-width="0.8"/>
<line x1="65.68" y1="511.8" x2="65.68" y2="514" stroke="#5a5a5a" stroke-width="0.8"/>
<line x1="67.08" y1="511.8" x2="67.08" y2="514" stroke="#5a5a5a" stroke-width="0.8"/>
<line x1="68.33" y1="511.8" x2="68.33" y2="515.4" stroke="#5a5a5a" stroke-width="0.9"/>
<text x="68.33" y="525.8" text-anchor="middle" class="tk">1</text>
<line x1="76.56" y1="511.8" x2="76.56" y2="514" stroke="#5a5a5a" stroke-width="0.8"/>
<line x1="81.37" y1="511.8" x2="81.37" y2="514" stroke="#5a5a5a" stroke-width="0.8"/>
<line x1="84.78" y1="511.8" x2="84.78" y2="514" stroke="#5a5a5a" stroke-width="0.8"/>
<line x1="87.43" y1="511.8" x2="87.43" y2="514" stroke="#5a5a5a" stroke-width="0.8"/>
<line x1="89.6" y1="511.8" x2="89.6" y2="514" stroke="#5a5a5a" stroke-width="0.8"/>
<line x1="91.43" y1="511.8" x2="91.43" y2="514" stroke="#5a5a5a" stroke-width="0.8"/>
<line x1="93.01" y1="511.8" x2="93.01" y2="514" stroke="#5a5a5a" stroke-width="0.8"/>
<line x1="94.41" y1="511.8" x2="94.41" y2="514" stroke="#5a5a5a" stroke-width="0.8"/>
<line x1="95.66" y1="511.8" x2="95.66" y2="515.4" stroke="#5a5a5a" stroke-width="0.9"/>
<text x="95.66" y="525.8" text-anchor="middle" class="tk">10</text>
<line x1="103.89" y1="511.8" x2="103.89" y2="514" stroke="#5a5a5a" stroke-width="0.8"/>
<line x1="108.7" y1="511.8" x2="108.7" y2="514" stroke="#5a5a5a" stroke-width="0.8"/>
<line x1="112.11" y1="511.8" x2="112.11" y2="514" stroke="#5a5a5a" stroke-width="0.8"/>
<line x1="114.76" y1="511.8" x2="114.76" y2="514" stroke="#5a5a5a" stroke-width="0.8"/>
<line x1="116.93" y1="511.8" x2="116.93" y2="514" stroke="#5a5a5a" stroke-width="0.8"/>
<line x1="118.76" y1="511.8" x2="118.76" y2="514" stroke="#5a5a5a" stroke-width="0.8"/>
<line x1="120.34" y1="511.8" x2="120.34" y2="514" stroke="#5a5a5a" stroke-width="0.8"/>
<line x1="121.74" y1="511.8" x2="121.74" y2="514" stroke="#5a5a5a" stroke-width="0.8"/>
<line x1="122.99" y1="511.8" x2="122.99" y2="515.4" stroke="#5a5a5a" stroke-width="0.9"/>
<text x="122.99" y="525.8" text-anchor="middle" class="tk">100</text>
<line x1="131.22" y1="511.8" x2="131.22" y2="514" stroke="#5a5a5a" stroke-width="0.8"/>
<line x1="136.03" y1="511.8" x2="136.03" y2="514" stroke="#5a5a5a" stroke-width="0.8"/>
<line x1="139.44" y1="511.8" x2="139.44" y2="514" stroke="#5a5a5a" stroke-width="0.8"/>
<line x1="142.09" y1="511.8" x2="142.09" y2="514" stroke="#5a5a5a" stroke-width="0.8"/>
<line x1="144.26" y1="511.8" x2="144.26" y2="514" stroke="#5a5a5a" stroke-width="0.8"/>
<line x1="146.09" y1="511.8" x2="146.09" y2="514" stroke="#5a5a5a" stroke-width="0.8"/>
<line x1="147.67" y1="511.8" x2="147.67" y2="514" stroke="#5a5a5a" stroke-width="0.8"/>
<line x1="149.07" y1="511.8" x2="149.07" y2="514" stroke="#5a5a5a" stroke-width="0.8"/>
<line x1="150.32" y1="511.8" x2="150.32" y2="515.4" stroke="#5a5a5a" stroke-width="0.9"/>
<text x="150.32" y="525.8" text-anchor="middle" class="tk">1,000</text>
<line x1="158.55" y1="511.8" x2="158.55" y2="514" stroke="#5a5a5a" stroke-width="0.8"/>
<line x1="163.36" y1="511.8" x2="163.36" y2="514" stroke="#5a5a5a" stroke-width="0.8"/>
<line x1="166.77" y1="511.8" x2="166.77" y2="514" stroke="#5a5a5a" stroke-width="0.8"/>
<line x1="169.42" y1="511.8" x2="169.42" y2="514" stroke="#5a5a5a" stroke-width="0.8"/>
<line x1="171.59" y1="511.8" x2="171.59" y2="514" stroke="#5a5a5a" stroke-width="0.8"/>
<line x1="173.42" y1="511.8" x2="173.42" y2="514" stroke="#5a5a5a" stroke-width="0.8"/>
<line x1="175" y1="511.8" x2="175" y2="514" stroke="#5a5a5a" stroke-width="0.8"/>
<line x1="176.4" y1="511.8" x2="176.4" y2="514" stroke="#5a5a5a" stroke-width="0.8"/>
<line x1="177.65" y1="511.8" x2="177.65" y2="515.4" stroke="#5a5a5a" stroke-width="0.9"/>
<text x="177.65" y="525.8" text-anchor="middle" class="tk">10,000</text>
<line x1="185.88" y1="511.8" x2="185.88" y2="514" stroke="#5a5a5a" stroke-width="0.8"/>
<line x1="190.69" y1="511.8" x2="190.69" y2="514" stroke="#5a5a5a" stroke-width="0.8"/>
<line x1="194.1" y1="511.8" x2="194.1" y2="514" stroke="#5a5a5a" stroke-width="0.8"/>
<line x1="196.75" y1="511.8" x2="196.75" y2="514" stroke="#5a5a5a" stroke-width="0.8"/>
<line x1="198.92" y1="511.8" x2="198.92" y2="514" stroke="#5a5a5a" stroke-width="0.8"/>
<line x1="200.75" y1="511.8" x2="200.75" y2="514" stroke="#5a5a5a" stroke-width="0.8"/>
<line x1="202.33" y1="511.8" x2="202.33" y2="514" stroke="#5a5a5a" stroke-width="0.8"/>
<line x1="203.73" y1="511.8" x2="203.73" y2="514" stroke="#5a5a5a" stroke-width="0.8"/>
<line x1="204.98" y1="511.8" x2="204.98" y2="515.4" stroke="#5a5a5a" stroke-width="0.9"/>
<text x="204.98" y="525.8" text-anchor="middle" class="tk">100,000</text>
<path d="M238.5,407.5H410.5V512.2" fill="none" stroke="#a2a2a2" stroke-width="1.4"/>
<path d="M238.5,406.65V512.2" fill="none" stroke="#c6c6c6" stroke-width="1.7"/>
<path d="M237.65,512.2H411.35" fill="none" stroke="#b4b4b4" stroke-width="1.5"/>
<line x1="235.3" y1="512.2" x2="238.9" y2="512.2" stroke="#5a5a5a" stroke-width="0.9"/>
<text x="233.2" y="514.7" text-anchor="end" class="tk">0</text>
<line x1="235.3" y1="494.75" x2="238.9" y2="494.75" stroke="#5a5a5a" stroke-width="0.9"/>
<text x="233.2" y="497.25" text-anchor="end" class="tk">5</text>
<line x1="235.3" y1="477.3" x2="238.9" y2="477.3" stroke="#5a5a5a" stroke-width="0.9"/>
<text x="233.2" y="479.8" text-anchor="end" class="tk">10</text>
<line x1="235.3" y1="459.85" x2="238.9" y2="459.85" stroke="#5a5a5a" stroke-width="0.9"/>
<text x="233.2" y="462.35" text-anchor="end" class="tk">15</text>
<line x1="235.3" y1="442.4" x2="238.9" y2="442.4" stroke="#5a5a5a" stroke-width="0.9"/>
<text x="233.2" y="444.9" text-anchor="end" class="tk">20</text>
<line x1="235.3" y1="424.95" x2="238.9" y2="424.95" stroke="#5a5a5a" stroke-width="0.9"/>
<text x="233.2" y="427.45" text-anchor="end" class="tk">25</text>
<line x1="235.3" y1="407.5" x2="238.9" y2="407.5" stroke="#5a5a5a" stroke-width="0.9"/>
<text x="233.2" y="410" text-anchor="end" class="tk">30</text>
<line x1="236.7" y1="503.48" x2="238.9" y2="503.48" stroke="#5a5a5a" stroke-width="0.8"/>
<line x1="236.7" y1="486.03" x2="238.9" y2="486.03" stroke="#5a5a5a" stroke-width="0.8"/>
<line x1="236.7" y1="468.58" x2="238.9" y2="468.58" stroke="#5a5a5a" stroke-width="0.8"/>
<line x1="236.7" y1="451.12" x2="238.9" y2="451.12" stroke="#5a5a5a" stroke-width="0.8"/>
<line x1="236.7" y1="433.68" x2="238.9" y2="433.68" stroke="#5a5a5a" stroke-width="0.8"/>
<line x1="236.7" y1="416.23" x2="238.9" y2="416.23" stroke="#5a5a5a" stroke-width="0.8"/>
<line x1="238.5" y1="511.8" x2="238.5" y2="515.4" stroke="#5a5a5a" stroke-width="0.9"/>
<text x="238.5" y="525.8" text-anchor="middle" class="tk">0.1</text>
<line x1="246.73" y1="511.8" x2="246.73" y2="514" stroke="#5a5a5a" stroke-width="0.8"/>
<line x1="251.54" y1="511.8" x2="251.54" y2="514" stroke="#5a5a5a" stroke-width="0.8"/>
<line x1="254.95" y1="511.8" x2="254.95" y2="514" stroke="#5a5a5a" stroke-width="0.8"/>
<line x1="257.6" y1="511.8" x2="257.6" y2="514" stroke="#5a5a5a" stroke-width="0.8"/>
<line x1="259.77" y1="511.8" x2="259.77" y2="514" stroke="#5a5a5a" stroke-width="0.8"/>
<line x1="261.6" y1="511.8" x2="261.6" y2="514" stroke="#5a5a5a" stroke-width="0.8"/>
<line x1="263.18" y1="511.8" x2="263.18" y2="514" stroke="#5a5a5a" stroke-width="0.8"/>
<line x1="264.58" y1="511.8" x2="264.58" y2="514" stroke="#5a5a5a" stroke-width="0.8"/>
<line x1="265.83" y1="511.8" x2="265.83" y2="515.4" stroke="#5a5a5a" stroke-width="0.9"/>
<text x="265.83" y="525.8" text-anchor="middle" class="tk">1</text>
<line x1="274.06" y1="511.8" x2="274.06" y2="514" stroke="#5a5a5a" stroke-width="0.8"/>
<line x1="278.87" y1="511.8" x2="278.87" y2="514" stroke="#5a5a5a" stroke-width="0.8"/>
<line x1="282.28" y1="511.8" x2="282.28" y2="514" stroke="#5a5a5a" stroke-width="0.8"/>
<line x1="284.93" y1="511.8" x2="284.93" y2="514" stroke="#5a5a5a" stroke-width="0.8"/>
<line x1="287.1" y1="511.8" x2="287.1" y2="514" stroke="#5a5a5a" stroke-width="0.8"/>
<line x1="288.93" y1="511.8" x2="288.93" y2="514" stroke="#5a5a5a" stroke-width="0.8"/>
<line x1="290.51" y1="511.8" x2="290.51" y2="514" stroke="#5a5a5a" stroke-width="0.8"/>
<line x1="291.91" y1="511.8" x2="291.91" y2="514" stroke="#5a5a5a" stroke-width="0.8"/>
<line x1="293.16" y1="511.8" x2="293.16" y2="515.4" stroke="#5a5a5a" stroke-width="0.9"/>
<text x="293.16" y="525.8" text-anchor="middle" class="tk">10</text>
<line x1="301.39" y1="511.8" x2="301.39" y2="514" stroke="#5a5a5a" stroke-width="0.8"/>
<line x1="306.2" y1="511.8" x2="306.2" y2="514" stroke="#5a5a5a" stroke-width="0.8"/>
<line x1="309.61" y1="511.8" x2="309.61" y2="514" stroke="#5a5a5a" stroke-width="0.8"/>
<line x1="312.26" y1="511.8" x2="312.26" y2="514" stroke="#5a5a5a" stroke-width="0.8"/>
<line x1="314.43" y1="511.8" x2="314.43" y2="514" stroke="#5a5a5a" stroke-width="0.8"/>
<line x1="316.26" y1="511.8" x2="316.26" y2="514" stroke="#5a5a5a" stroke-width="0.8"/>
<line x1="317.84" y1="511.8" x2="317.84" y2="514" stroke="#5a5a5a" stroke-width="0.8"/>
<line x1="319.24" y1="511.8" x2="319.24" y2="514" stroke="#5a5a5a" stroke-width="0.8"/>
<line x1="320.49" y1="511.8" x2="320.49" y2="515.4" stroke="#5a5a5a" stroke-width="0.9"/>
<text x="320.49" y="525.8" text-anchor="middle" class="tk">100</text>
<line x1="328.72" y1="511.8" x2="328.72" y2="514" stroke="#5a5a5a" stroke-width="0.8"/>
<line x1="333.53" y1="511.8" x2="333.53" y2="514" stroke="#5a5a5a" stroke-width="0.8"/>
<line x1="336.94" y1="511.8" x2="336.94" y2="514" stroke="#5a5a5a" stroke-width="0.8"/>
<line x1="339.59" y1="511.8" x2="339.59" y2="514" stroke="#5a5a5a" stroke-width="0.8"/>
<line x1="341.76" y1="511.8" x2="341.76" y2="514" stroke="#5a5a5a" stroke-width="0.8"/>
<line x1="343.59" y1="511.8" x2="343.59" y2="514" stroke="#5a5a5a" stroke-width="0.8"/>
<line x1="345.17" y1="511.8" x2="345.17" y2="514" stroke="#5a5a5a" stroke-width="0.8"/>
<line x1="346.57" y1="511.8" x2="346.57" y2="514" stroke="#5a5a5a" stroke-width="0.8"/>
<line x1="347.82" y1="511.8" x2="347.82" y2="515.4" stroke="#5a5a5a" stroke-width="0.9"/>
<text x="347.82" y="525.8" text-anchor="middle" class="tk">1,000</text>
<line x1="356.05" y1="511.8" x2="356.05" y2="514" stroke="#5a5a5a" stroke-width="0.8"/>
<line x1="360.86" y1="511.8" x2="360.86" y2="514" stroke="#5a5a5a" stroke-width="0.8"/>
<line x1="364.27" y1="511.8" x2="364.27" y2="514" stroke="#5a5a5a" stroke-width="0.8"/>
<line x1="366.92" y1="511.8" x2="366.92" y2="514" stroke="#5a5a5a" stroke-width="0.8"/>
<line x1="369.09" y1="511.8" x2="369.09" y2="514" stroke="#5a5a5a" stroke-width="0.8"/>
<line x1="370.92" y1="511.8" x2="370.92" y2="514" stroke="#5a5a5a" stroke-width="0.8"/>
<line x1="372.5" y1="511.8" x2="372.5" y2="514" stroke="#5a5a5a" stroke-width="0.8"/>
<line x1="373.9" y1="511.8" x2="373.9" y2="514" stroke="#5a5a5a" stroke-width="0.8"/>
<line x1="375.15" y1="511.8" x2="375.15" y2="515.4" stroke="#5a5a5a" stroke-width="0.9"/>
<text x="375.15" y="525.8" text-anchor="middle" class="tk">10,000</text>
<line x1="383.38" y1="511.8" x2="383.38" y2="514" stroke="#5a5a5a" stroke-width="0.8"/>
<line x1="388.19" y1="511.8" x2="388.19" y2="514" stroke="#5a5a5a" stroke-width="0.8"/>
<line x1="391.6" y1="511.8" x2="391.6" y2="514" stroke="#5a5a5a" stroke-width="0.8"/>
<line x1="394.25" y1="511.8" x2="394.25" y2="514" stroke="#5a5a5a" stroke-width="0.8"/>
<line x1="396.42" y1="511.8" x2="396.42" y2="514" stroke="#5a5a5a" stroke-width="0.8"/>
<line x1="398.25" y1="511.8" x2="398.25" y2="514" stroke="#5a5a5a" stroke-width="0.8"/>
<line x1="399.83" y1="511.8" x2="399.83" y2="514" stroke="#5a5a5a" stroke-width="0.8"/>
<line x1="401.23" y1="511.8" x2="401.23" y2="514" stroke="#5a5a5a" stroke-width="0.8"/>
<line x1="402.48" y1="511.8" x2="402.48" y2="515.4" stroke="#5a5a5a" stroke-width="0.9"/>
<text x="402.48" y="525.8" text-anchor="middle" class="tk">100,000</text>
<defs>
<clipPath id="cA"><rect x="41" y="11.7" width="171.5" height="107.4"/></clipPath>
<clipPath id="cB"><rect x="239" y="11.7" width="171.5" height="107.5"/></clipPath>
<clipPath id="cC"><rect x="41" y="143.9" width="171.5" height="107.4"/></clipPath>
<clipPath id="cD"><rect x="238.5" y="143.9" width="172" height="107.4"/></clipPath>
<clipPath id="cE"><rect x="41" y="276" width="171.5" height="107.7"/></clipPath>
<clipPath id="cF"><rect x="238.5" y="276" width="172" height="107.7"/></clipPath>
<clipPath id="cG"><rect x="41" y="408.2" width="171.5" height="107.7"/></clipPath>
<clipPath id="cH"><rect x="238.5" y="408.2" width="172" height="107.7"/></clipPath>
</defs>
<g clip-path="url(#cB)">
<polygon points="257,115.7 258.1,109 259,107.3 259.5,109.5 260.1,115.7" fill="#34e834" stroke="#34e834" stroke-width="0.6" stroke-linejoin="round"/>
<polyline points="255.9,115.4 257.6,111.8 258.7,112.9 259.8,109 260.4,107 261,108.4 261.5,112.9 262.1,114.6 262.9,112.9 263.8,109 264.3,108.7 264.9,115.2 265.5,115.7" fill="none" stroke="#f5262e" stroke-width="1.2" stroke-linejoin="round" stroke-linecap="round" />
<polyline points="317.2,113 322,111.5 326,112.5 330,111.5 335,112.3 340,111.3 345,112.5 350,111.8 355,112.8 360,112 365,112.8 370,113.3 375,113.6 376.5,111 378,114.5 390,115 409,115" fill="none" stroke="#34e834" stroke-width="1.2" stroke-linejoin="round" stroke-linecap="round" />
<polyline points="315.9,108.8 321.6,112.5 326.8,114.2 340,114.3 370,114.4 395,114.2 405,113.8 409.4,111.8" fill="none" stroke="#f5262e" stroke-width="1.2" stroke-linejoin="round" stroke-linecap="round" />
<polyline points="273.75,115.3 281.3,113.4 288.75,112.1 294.4,110.3 296.25,112.1 300,109.7 305.6,105.9 313.5,98.4" fill="none" stroke="#f5262e" stroke-width="1.25" stroke-linejoin="round" stroke-linecap="round" />
<polyline points="274.7,110.6 281.3,108.8 286.9,104.1 291.6,97.5 293.4,105 295.3,97.5 298.1,95.6 301.9,88.1 305.6,75 308.4,58.1 310.3,39.4 312.8,23.4" fill="none" stroke="#34e834" stroke-width="1.25" stroke-linejoin="round" stroke-linecap="round" />
</g>
<g clip-path="url(#cC)">
<polygon points="58.5,247.7 59.6,243.8 61,240.1 61.8,239.3 62.4,241 63.2,242.9 64.1,241.2 64.6,242.6 65.2,247.7" fill="#f5262e" stroke="#f5262e" stroke-width="0.8" stroke-linejoin="round"/>
<polygon points="65.4,247.7 66,237.6 66.9,237.3 67.5,247.2 68,247.7" fill="#f5262e" stroke="#f5262e" stroke-width="0.8" stroke-linejoin="round"/>
<polygon points="59.6,247.7 60.7,243.8 61.5,242.6 62.4,246.6 63.5,247.7" fill="#22e488" stroke="#22e488" stroke-width="0.6" stroke-linejoin="round"/>
<polyline points="118.6,242.7 122,244 124.8,246 126,242.3 132,242.8 139.6,241.8 143.3,244.5 147,242 150,243.5 153.1,241.5 156,243 159.3,239.8 161.5,243 163.7,247.3" fill="none" stroke="#22e488" stroke-width="1.2" stroke-linejoin="round" stroke-linecap="round" />
<polyline points="118.2,243.1 122,245.5 126,247 160,247.2 205,246.8 211,244.2" fill="none" stroke="#f5262e" stroke-width="1.2" stroke-linejoin="round" stroke-linecap="round" />
<polyline points="76.5,246.7 82,246.2 88.2,245.4 92,244 95.7,241.6 98.5,243.9 102,242 106,238.5 110,234 115.8,226.2" fill="none" stroke="#f5262e" stroke-width="1.25" stroke-linejoin="round" stroke-linecap="round" />
<polyline points="77.3,243.9 83,242 88.2,238.8 93.8,230.9 96.6,237.3 98.5,231.3 101.3,228.5 105.1,220 107,213 108.5,205 110.3,190 112.3,170 114.4,147.4" fill="none" stroke="#22e488" stroke-width="1.25" stroke-linejoin="round" stroke-linecap="round" />
</g>
<g clip-path="url(#cD)">
<polygon points="257,247.7 257.9,241.5 259,239.3 259.8,239.8 260.7,244.3 261.8,246.9 262.9,242.1 264,242.1 264.6,247.2 264.9,248" fill="#22e488" stroke="#22e488" stroke-width="0.6" stroke-linejoin="round"/>
<polyline points="254.8,247.4 256.5,246.9 258.4,245.2 259.5,245.5 260.7,246.6 262.1,247.4 263.5,246.3 264.6,247.2 266,247.7" fill="none" stroke="#f5262e" stroke-width="1.2" stroke-linejoin="round" stroke-linecap="round" />
<polyline points="319.6,245.5 325,245.8 330,245.2 336,245 340.6,243.7 344,245 348,244.8 352.6,243.5 355.5,247.3" fill="none" stroke="#22e488" stroke-width="1.2" stroke-linejoin="round" stroke-linecap="round" />
<polyline points="312.9,244.6 317,246 322,247 360,247.2 401,246.1" fill="none" stroke="#f5262e" stroke-width="1.2" stroke-linejoin="round" stroke-linecap="round" />
<polyline points="272,247.3 280,246.8 286,246 292.7,245 296,245.3 299.7,244.3 303,242.5 307,240 311.3,237.3" fill="none" stroke="#f5262e" stroke-width="1.25" stroke-linejoin="round" stroke-linecap="round" />
<polyline points="273.2,239.1 280.2,236.7 284.9,231.4 289.4,223.8 292,233 293.4,227.4 295.5,225.3 299.7,216.1 302.3,203.5 303.7,195 306,175 308,160 310.3,147.8" fill="none" stroke="#22e488" stroke-width="1.25" stroke-linejoin="round" stroke-linecap="round" />
</g>
<g clip-path="url(#cE)">
<polygon points="57.9,380.3 59.3,375.2 60.4,372.7 61.5,372.7 62.4,375.2 63.5,376.9 64.6,378 65.8,373.5 66.3,373.2 66.6,380.3" fill="#22e488" stroke="#22e488" stroke-width="0.6" stroke-linejoin="round"/>
<polyline points="56.8,379.7 58.5,378 59.6,376.6 60.7,376.3 61.8,376.6 63,377.5 63.8,379.4 64.9,379.2 65.8,378 66.9,379.4 68,380 68.9,373.5 69.4,373.2 69.7,380.3" fill="none" stroke="#f5262e" stroke-width="1.2" stroke-linejoin="round" stroke-linecap="round" />
<polyline points="115.4,376 119,376.5 123.6,374.2 126,377 129.2,374.3 132,377 134.6,373.5 137,377 140,375 142.8,371 147,379.6" fill="none" stroke="#22e488" stroke-width="1.2" stroke-linejoin="round" stroke-linecap="round" />
<polyline points="115.4,377.5 120,379 130,379.5 170,379.6 206.1,377.9" fill="none" stroke="#f5262e" stroke-width="1.2" stroke-linejoin="round" stroke-linecap="round" />
<polyline points="75.4,379.8 85,379 93.2,377.9 100,376.5 106,375 110,373 113.8,370.9" fill="none" stroke="#f5262e" stroke-width="1.25" stroke-linejoin="round" stroke-linecap="round" />
<polyline points="75.9,376.6 80,375.5 85.7,373.6 89,371 92.3,367.2 94.1,371.3 96.9,366.6 100.7,358.2 103,350 104.5,341.3 106.3,330 109,315 112.6,296.5" fill="none" stroke="#22e488" stroke-width="1.25" stroke-linejoin="round" stroke-linecap="round" />
</g>
<g clip-path="url(#cF)">
<polygon points="256.5,380.3 257.3,371.3 258.4,374.6 259.3,368.5 259.8,373 260.7,378.6 262.4,380 263.5,379.2 264.3,373.5 264.9,379.2 265.2,380.3" fill="#22e488" stroke="#22e488" stroke-width="0.6" stroke-linejoin="round"/>
<polyline points="253.6,378.6 255,379.4 256.5,376.3 257.9,375.2 259,371.3 259.8,373.5 260.7,376.6 261.8,378 263.2,378.6 264.3,376.6 265.2,379.2 266,380 267.2,376.6 267.7,380" fill="none" stroke="#f5262e" stroke-width="1.2" stroke-linejoin="round" stroke-linecap="round" />
<polyline points="314.7,376 318,376.5 322,375.5 326,376.5 330,375.5 335,376.5 340,375.8 345,376.5 350,376 353.1,376.5 355,379.6" fill="none" stroke="#22e488" stroke-width="1.2" stroke-linejoin="round" stroke-linecap="round" />
<polyline points="313,354.3 317.9,370.1 320.8,375.4 323.2,378.2 328,379 360,379 381.8,380 395,379 403.4,376.5" fill="none" stroke="#f5262e" stroke-width="1.2" stroke-linejoin="round" stroke-linecap="round" />
<polyline points="273.5,379.2 280,378.3 288.3,376.5 294.7,375.4 295.7,372 297.8,373.3 301,371.5 305,369 310.5,364.9" fill="none" stroke="#f5262e" stroke-width="1.25" stroke-linejoin="round" stroke-linecap="round" />
<polyline points="273.5,374 279.9,372.3 285,368 289.4,361.3 291.9,368 294.7,361.7 298.9,349 301.3,340 302.5,330 304.2,316 305.5,308 307.2,300 310.4,285.1" fill="none" stroke="#22e488" stroke-width="1.25" stroke-linejoin="round" stroke-linecap="round" />
</g>
<g clip-path="url(#cG)">
<polygon points="58.5,512.3 60.4,505.8 61.5,505.5 62.4,508.9 63.5,512.3" fill="#22e488" stroke="#22e488" stroke-width="0.6" stroke-linejoin="round"/>
<polyline points="56.2,511.7 57.9,510 59.3,507.2 60.7,505.2 61.5,505.5 62.4,507.8 63.5,511.2 64.4,508.9 64.9,505.2 65.8,505.5 66.3,510.6 67.5,512 68.6,510.6 69.2,508.6 69.7,512" fill="none" stroke="#f5262e" stroke-width="1.2" stroke-linejoin="round" stroke-linecap="round" />
<polyline points="116.6,508.6 119.7,511 122.9,506 126,507.5 130,507 133,505.5 136,507 139,506 142.5,503.5 147,512" fill="none" stroke="#22e488" stroke-width="1.2" stroke-linejoin="round" stroke-linecap="round" />
<polyline points="115.5,484.3 118.7,488.5 120.8,495.9 122.9,504.4 128.2,507 131,510.4 142,508.9 159.3,510.6 195,509.5 204.9,507.7" fill="none" stroke="#f5262e" stroke-width="1.2" stroke-linejoin="round" stroke-linecap="round" />
<polyline points="75.4,508.2 77.5,509.9 85,509.5 92.3,508 95.4,505.9 98.6,505.4 100.7,506 105,503 109,500 112.8,496.3" fill="none" stroke="#f5262e" stroke-width="1.25" stroke-linejoin="round" stroke-linecap="round" />
<polyline points="75.8,505 83.8,502.3 89.1,493.8 91.8,488.1 94.4,497 96.9,487.5 100.7,470.6 103.5,460 105.5,445 107.5,425 109.3,405" fill="none" stroke="#22e488" stroke-width="1.25" stroke-linejoin="round" stroke-linecap="round" />
</g>
<g clip-path="url(#cH)">
<polygon points="256.5,512.3 257.9,505.5 258.7,504.7 259.3,506.1 260.4,510 261.5,511.2 262.6,511.2 263.5,510 264,511.2 264.3,512.3" fill="#22e488" stroke="#22e488" stroke-width="0.6" stroke-linejoin="round"/>
<polyline points="253.6,510 254.8,511.4 256.5,506.1 258.4,501.3 259.8,502.7 261,506.6 262.1,510.3 263.5,510.6 264.3,507.2 265.2,510.6 266,512 267.2,507.2 267.7,512" fill="none" stroke="#f5262e" stroke-width="1.2" stroke-linejoin="round" stroke-linecap="round" />
<polyline points="313.6,507.2 319.6,504.8 322.5,508 326.5,505 330,509 335,506 339,507 340.7,503.2 345,508 350,506 353,507.5 355,505.5 360,507 363,506.5 365,512" fill="none" stroke="#22e488" stroke-width="1.2" stroke-linejoin="round" stroke-linecap="round" />
<polyline points="313.7,506.9 318,509.5 330,508.5 335,510 393.8,509 399.8,508 403.4,505.6" fill="none" stroke="#f5262e" stroke-width="1.2" stroke-linejoin="round" stroke-linecap="round" />
<polyline points="272.5,502.3 274.6,506.5 276.7,503.3 280.9,505.4 288,506 293.6,504 295.7,498 297.4,503.3 301,501.2 305,496 310.5,485.8" fill="none" stroke="#f5262e" stroke-width="1.25" stroke-linejoin="round" stroke-linecap="round" />
<polyline points="274.6,503.3 280.9,499.1 286.2,491.7 289.4,484.9 291.9,494.2 294,484.3 296.8,480 299.5,462 301.5,445 303.5,425 305.2,405" fill="none" stroke="#22e488" stroke-width="1.25" stroke-linejoin="round" stroke-linecap="round" />
</g>
<g clip-path="url(#cA)">
<polygon points="59.5,115.6 61,112.2 63.2,108 65.3,104.5 66.3,104.1 67.4,105.9 68.4,109.4 69.5,112.5 70.5,110.8 72,108 73,109 73.7,112.2 74.8,114.3 75.8,115.6" fill="#f22020" stroke="#f22020" stroke-width="0.7" stroke-linejoin="round"/>
<polygon points="62,115.6 64,110 66,106.6 67.5,110 69,115.6" fill="#f59a55" stroke="#f59a55" stroke-width="0.7" stroke-linejoin="round"/>
<polygon points="70.5,115.6 72,109.5 73,112 73.5,115.6" fill="#f59a55" stroke="#f59a55" stroke-width="0.7" stroke-linejoin="round"/>
<polygon points="62.5,115.6 64.5,111 66,109.2 67.5,112 68.5,115.6" fill="#a6ea46" stroke="#a6ea46" stroke-width="0.7" stroke-linejoin="round"/>
<polygon points="63,115.6 65,112 66,111.3 67.5,113 68,115.6" fill="#1edc8a" stroke="#1edc8a" stroke-width="0.7" stroke-linejoin="round"/>
<polygon points="63.5,115.6 65.3,113 66.2,112.8 67.5,115.6" fill="#22bdf0" stroke="#22bdf0" stroke-width="0.7" stroke-linejoin="round"/>
<polygon points="64.5,115.6 66,113.8 67,115.6" fill="#2020e8" stroke="#2020e8" stroke-width="0.7" stroke-linejoin="round"/>
<polygon points="70.7,115.6 71.3,111 71.9,115.6" fill="#3a7cf2" stroke="#3a7cf2" stroke-width="0.7" stroke-linejoin="round"/>
<circle cx="76.2" cy="108.3" r="1" fill="#1ee07e"/>
<circle cx="76.2" cy="110.6" r="1" fill="#f6a266"/>
<circle cx="76.2" cy="112.9" r="1" fill="#1ee07e"/>
<circle cx="75.8" cy="114.6" r="1" fill="#28c2f0"/>
<polyline points="83.19,115.29 92.36,114.21 101.4,113.48 108.26,112.46 110.51,113.48 115.06,112.12 121.86,109.97 131.45,105.72" fill="none" stroke="#2c2cee" stroke-width="0.75" stroke-linejoin="round" stroke-linecap="round" stroke-dasharray="1.2,1.2" opacity="0.7"/>
<circle cx="83.19" cy="115.29" r="0.95" fill="#2c2cee"/>
<circle cx="86.64" cy="114.88" r="0.95" fill="#2c2cee"/>
<circle cx="90.09" cy="114.48" r="0.95" fill="#2c2cee"/>
<circle cx="93.54" cy="114.11" r="0.95" fill="#2c2cee"/>
<circle cx="96.99" cy="113.83" r="0.95" fill="#2c2cee"/>
<circle cx="100.44" cy="113.55" r="0.95" fill="#2c2cee"/>
<circle cx="103.89" cy="113.11" r="0.95" fill="#2c2cee"/>
<circle cx="107.34" cy="112.59" r="0.95" fill="#2c2cee"/>
<circle cx="110.79" cy="113.39" r="0.95" fill="#2c2cee"/>
<circle cx="114.24" cy="112.36" r="0.95" fill="#2c2cee"/>
<circle cx="117.69" cy="111.28" r="0.95" fill="#2c2cee"/>
<circle cx="121.14" cy="110.19" r="0.95" fill="#2c2cee"/>
<circle cx="124.59" cy="108.76" r="0.95" fill="#2c2cee"/>
<circle cx="128.04" cy="107.23" r="0.95" fill="#2c2cee"/>
<polyline points="134.37,111.61 141.29,113.7 147.6,114.66 163.63,114.72 200.05,114.78 230.41,114.66 242.55,114.44 247.89,113.31" fill="none" stroke="#2c2cee" stroke-width="0.75" stroke-linejoin="round" stroke-linecap="round" stroke-dasharray="1.2,1.2" opacity="0.7"/>
<circle cx="134.37" cy="111.61" r="0.95" fill="#2c2cee"/>
<circle cx="137.82" cy="112.65" r="0.95" fill="#2c2cee"/>
<circle cx="141.27" cy="113.7" r="0.95" fill="#2c2cee"/>
<circle cx="144.72" cy="114.22" r="0.95" fill="#2c2cee"/>
<circle cx="148.17" cy="114.67" r="0.95" fill="#2c2cee"/>
<circle cx="151.62" cy="114.68" r="0.95" fill="#2c2cee"/>
<circle cx="155.07" cy="114.69" r="0.95" fill="#2c2cee"/>
<circle cx="158.52" cy="114.7" r="0.95" fill="#2c2cee"/>
<circle cx="161.97" cy="114.71" r="0.95" fill="#2c2cee"/>
<circle cx="165.42" cy="114.72" r="0.95" fill="#2c2cee"/>
<circle cx="168.87" cy="114.73" r="0.95" fill="#2c2cee"/>
<circle cx="172.32" cy="114.73" r="0.95" fill="#2c2cee"/>
<circle cx="175.77" cy="114.74" r="0.95" fill="#2c2cee"/>
<circle cx="179.22" cy="114.74" r="0.95" fill="#2c2cee"/>
<circle cx="182.67" cy="114.75" r="0.95" fill="#2c2cee"/>
<circle cx="186.12" cy="114.76" r="0.95" fill="#2c2cee"/>
<circle cx="189.57" cy="114.76" r="0.95" fill="#2c2cee"/>
<circle cx="193.02" cy="114.77" r="0.95" fill="#2c2cee"/>
<circle cx="196.47" cy="114.77" r="0.95" fill="#2c2cee"/>
<circle cx="199.92" cy="114.78" r="0.95" fill="#2c2cee"/>
<circle cx="203.37" cy="114.76" r="0.95" fill="#2c2cee"/>
<circle cx="206.82" cy="114.75" r="0.95" fill="#2c2cee"/>
<circle cx="210.27" cy="114.74" r="0.95" fill="#2c2cee"/>
<polyline points="135.95,113.98 141.78,113.14 146.63,113.7 151.49,113.14 157.56,113.59 163.63,113.02 169.7,113.7 175.77,113.31 181.84,113.87 187.91,113.42 193.98,113.87 200.05,114.15 206.13,114.32 207.95,112.85 209.77,114.83 224.34,115.12 247.41,115.12" fill="none" stroke="#2c2cee" stroke-width="1.1" stroke-linejoin="round" stroke-linecap="round" />
<polyline points="84.33,114.95 91.05,114.7 98.61,114.3 103.25,113.6 107.77,112.4 111.19,113.55 115.46,112.6 120.34,110.85 125.22,108.6 132.3,104.7" fill="none" stroke="#3a7cf2" stroke-width="0.75" stroke-linejoin="round" stroke-linecap="round" stroke-dasharray="1.2,1.2" opacity="0.7"/>
<circle cx="84.33" cy="114.95" r="0.95" fill="#3a7cf2"/>
<circle cx="87.78" cy="114.82" r="0.95" fill="#3a7cf2"/>
<circle cx="91.23" cy="114.69" r="0.95" fill="#3a7cf2"/>
<circle cx="94.68" cy="114.51" r="0.95" fill="#3a7cf2"/>
<circle cx="98.13" cy="114.33" r="0.95" fill="#3a7cf2"/>
<circle cx="101.58" cy="113.85" r="0.95" fill="#3a7cf2"/>
<circle cx="105.03" cy="113.13" r="0.95" fill="#3a7cf2"/>
<circle cx="108.48" cy="112.64" r="0.95" fill="#3a7cf2"/>
<circle cx="111.93" cy="113.38" r="0.95" fill="#3a7cf2"/>
<circle cx="115.38" cy="112.62" r="0.95" fill="#3a7cf2"/>
<circle cx="118.83" cy="111.39" r="0.95" fill="#3a7cf2"/>
<circle cx="122.28" cy="109.96" r="0.95" fill="#3a7cf2"/>
<circle cx="125.73" cy="108.32" r="0.95" fill="#3a7cf2"/>
<circle cx="129.18" cy="106.42" r="0.95" fill="#3a7cf2"/>
<polyline points="135.23,113.15 139.87,114.35 144.75,115.1 186.26,115.2 241.19,115 248.51,113.7" fill="none" stroke="#3a7cf2" stroke-width="0.75" stroke-linejoin="round" stroke-linecap="round" stroke-dasharray="1.2,1.2" opacity="0.7"/>
<circle cx="135.23" cy="113.15" r="0.95" fill="#3a7cf2"/>
<circle cx="138.68" cy="114.04" r="0.95" fill="#3a7cf2"/>
<circle cx="142.13" cy="114.7" r="0.95" fill="#3a7cf2"/>
<circle cx="145.58" cy="115.1" r="0.95" fill="#3a7cf2"/>
<circle cx="149.03" cy="115.11" r="0.95" fill="#3a7cf2"/>
<circle cx="152.48" cy="115.12" r="0.95" fill="#3a7cf2"/>
<circle cx="155.93" cy="115.13" r="0.95" fill="#3a7cf2"/>
<circle cx="159.38" cy="115.14" r="0.95" fill="#3a7cf2"/>
<circle cx="162.83" cy="115.14" r="0.95" fill="#3a7cf2"/>
<circle cx="166.28" cy="115.15" r="0.95" fill="#3a7cf2"/>
<circle cx="169.73" cy="115.16" r="0.95" fill="#3a7cf2"/>
<circle cx="173.18" cy="115.17" r="0.95" fill="#3a7cf2"/>
<circle cx="176.63" cy="115.18" r="0.95" fill="#3a7cf2"/>
<circle cx="180.08" cy="115.19" r="0.95" fill="#3a7cf2"/>
<circle cx="183.53" cy="115.19" r="0.95" fill="#3a7cf2"/>
<circle cx="186.98" cy="115.2" r="0.95" fill="#3a7cf2"/>
<circle cx="190.43" cy="115.18" r="0.95" fill="#3a7cf2"/>
<circle cx="193.88" cy="115.17" r="0.95" fill="#3a7cf2"/>
<circle cx="197.33" cy="115.16" r="0.95" fill="#3a7cf2"/>
<circle cx="200.78" cy="115.15" r="0.95" fill="#3a7cf2"/>
<circle cx="204.23" cy="115.13" r="0.95" fill="#3a7cf2"/>
<circle cx="207.68" cy="115.12" r="0.95" fill="#3a7cf2"/>
<circle cx="211.13" cy="115.11" r="0.95" fill="#3a7cf2"/>
<polyline points="135.72,112.95 139.87,113.6 143.29,114.6 144.75,112.75 152.08,113 161.36,112.5 165.87,113.85 170.39,112.6 174.05,113.35 177.83,112.35 181.37,113.1 185.4,111.5 188.09,113.1 190.77,115.25" fill="none" stroke="#3a7cf2" stroke-width="1.1" stroke-linejoin="round" stroke-linecap="round" />
<polyline points="83.04,115.15 93.08,114.73 100.61,114.07 109.02,113.23 113.16,113.48 117.81,112.65 121.95,111.15 126.97,109.07 132.37,106.82" fill="none" stroke="#28c2f0" stroke-width="0.75" stroke-linejoin="round" stroke-linecap="round" stroke-dasharray="1.2,1.2" opacity="0.7"/>
<circle cx="83.04" cy="115.15" r="0.95" fill="#28c2f0"/>
<circle cx="86.49" cy="115.01" r="0.95" fill="#28c2f0"/>
<circle cx="89.94" cy="114.86" r="0.95" fill="#28c2f0"/>
<circle cx="93.39" cy="114.71" r="0.95" fill="#28c2f0"/>
<circle cx="96.84" cy="114.4" r="0.95" fill="#28c2f0"/>
<circle cx="100.29" cy="114.1" r="0.95" fill="#28c2f0"/>
<circle cx="103.74" cy="113.76" r="0.95" fill="#28c2f0"/>
<circle cx="107.19" cy="113.41" r="0.95" fill="#28c2f0"/>
<circle cx="110.64" cy="113.33" r="0.95" fill="#28c2f0"/>
<circle cx="114.09" cy="113.32" r="0.95" fill="#28c2f0"/>
<circle cx="117.54" cy="112.7" r="0.95" fill="#28c2f0"/>
<circle cx="120.99" cy="111.5" r="0.95" fill="#28c2f0"/>
<circle cx="124.44" cy="110.11" r="0.95" fill="#28c2f0"/>
<circle cx="127.89" cy="108.68" r="0.95" fill="#28c2f0"/>
<circle cx="131.34" cy="107.24" r="0.95" fill="#28c2f0"/>
<polyline points="134.37,112.9 139.52,114.07 145.8,114.9 193.49,115.07 244.94,114.15" fill="none" stroke="#28c2f0" stroke-width="0.75" stroke-linejoin="round" stroke-linecap="round" stroke-dasharray="1.2,1.2" opacity="0.7"/>
<circle cx="134.37" cy="112.9" r="0.95" fill="#28c2f0"/>
<circle cx="137.82" cy="113.68" r="0.95" fill="#28c2f0"/>
<circle cx="141.27" cy="114.3" r="0.95" fill="#28c2f0"/>
<circle cx="144.72" cy="114.76" r="0.95" fill="#28c2f0"/>
<circle cx="148.17" cy="114.91" r="0.95" fill="#28c2f0"/>
<circle cx="151.62" cy="114.92" r="0.95" fill="#28c2f0"/>
<circle cx="155.07" cy="114.93" r="0.95" fill="#28c2f0"/>
<circle cx="158.52" cy="114.94" r="0.95" fill="#28c2f0"/>
<circle cx="161.97" cy="114.96" r="0.95" fill="#28c2f0"/>
<circle cx="165.42" cy="114.97" r="0.95" fill="#28c2f0"/>
<circle cx="168.87" cy="114.98" r="0.95" fill="#28c2f0"/>
<circle cx="172.32" cy="114.99" r="0.95" fill="#28c2f0"/>
<circle cx="175.77" cy="115" r="0.95" fill="#28c2f0"/>
<circle cx="179.22" cy="115.02" r="0.95" fill="#28c2f0"/>
<circle cx="182.67" cy="115.03" r="0.95" fill="#28c2f0"/>
<circle cx="186.12" cy="115.04" r="0.95" fill="#28c2f0"/>
<circle cx="189.57" cy="115.05" r="0.95" fill="#28c2f0"/>
<circle cx="193.02" cy="115.07" r="0.95" fill="#28c2f0"/>
<circle cx="196.47" cy="115.01" r="0.95" fill="#28c2f0"/>
<circle cx="199.92" cy="114.95" r="0.95" fill="#28c2f0"/>
<circle cx="203.37" cy="114.89" r="0.95" fill="#28c2f0"/>
<circle cx="206.82" cy="114.83" r="0.95" fill="#28c2f0"/>
<circle cx="210.27" cy="114.77" r="0.95" fill="#28c2f0"/>
<polyline points="142.78,113.65 149.56,113.9 155.84,113.4 163.37,113.23 169.14,112.15 173.41,113.23 178.43,113.07 184.2,111.98 187.84,115.15" fill="none" stroke="#28c2f0" stroke-width="1.1" stroke-linejoin="round" stroke-linecap="round" />
<polyline points="84.17,115.2 96.22,114.4 106.51,113.31 115.05,111.91 122.58,110.41 127.6,108.42 132.37,106.33" fill="none" stroke="#1ee07e" stroke-width="0.75" stroke-linejoin="round" stroke-linecap="round" stroke-dasharray="1.2,1.2" opacity="0.7"/>
<circle cx="84.17" cy="115.2" r="0.95" fill="#1ee07e"/>
<circle cx="87.62" cy="114.97" r="0.95" fill="#1ee07e"/>
<circle cx="91.07" cy="114.74" r="0.95" fill="#1ee07e"/>
<circle cx="94.52" cy="114.52" r="0.95" fill="#1ee07e"/>
<circle cx="97.97" cy="114.22" r="0.95" fill="#1ee07e"/>
<circle cx="101.42" cy="113.85" r="0.95" fill="#1ee07e"/>
<circle cx="104.87" cy="113.48" r="0.95" fill="#1ee07e"/>
<circle cx="108.32" cy="113.01" r="0.95" fill="#1ee07e"/>
<circle cx="111.77" cy="112.45" r="0.95" fill="#1ee07e"/>
<circle cx="115.22" cy="111.88" r="0.95" fill="#1ee07e"/>
<circle cx="118.67" cy="111.19" r="0.95" fill="#1ee07e"/>
<circle cx="122.12" cy="110.5" r="0.95" fill="#1ee07e"/>
<circle cx="125.57" cy="109.22" r="0.95" fill="#1ee07e"/>
<circle cx="129.02" cy="107.79" r="0.95" fill="#1ee07e"/>
<polyline points="134.37,112.91 140.15,114.4 152.7,114.9 202.9,115 248.21,113.31" fill="none" stroke="#1ee07e" stroke-width="0.75" stroke-linejoin="round" stroke-linecap="round" stroke-dasharray="1.2,1.2" opacity="0.7"/>
<circle cx="134.37" cy="112.91" r="0.95" fill="#1ee07e"/>
<circle cx="137.82" cy="113.8" r="0.95" fill="#1ee07e"/>
<circle cx="141.27" cy="114.45" r="0.95" fill="#1ee07e"/>
<circle cx="144.72" cy="114.58" r="0.95" fill="#1ee07e"/>
<circle cx="148.17" cy="114.72" r="0.95" fill="#1ee07e"/>
<circle cx="151.62" cy="114.86" r="0.95" fill="#1ee07e"/>
<circle cx="155.07" cy="114.91" r="0.95" fill="#1ee07e"/>
<circle cx="158.52" cy="114.91" r="0.95" fill="#1ee07e"/>
<circle cx="161.97" cy="114.92" r="0.95" fill="#1ee07e"/>
<circle cx="165.42" cy="114.93" r="0.95" fill="#1ee07e"/>
<circle cx="168.87" cy="114.93" r="0.95" fill="#1ee07e"/>
<circle cx="172.32" cy="114.94" r="0.95" fill="#1ee07e"/>
<circle cx="175.77" cy="114.95" r="0.95" fill="#1ee07e"/>
<circle cx="179.22" cy="114.95" r="0.95" fill="#1ee07e"/>
<circle cx="182.67" cy="114.96" r="0.95" fill="#1ee07e"/>
<circle cx="186.12" cy="114.97" r="0.95" fill="#1ee07e"/>
<circle cx="189.57" cy="114.97" r="0.95" fill="#1ee07e"/>
<circle cx="193.02" cy="114.98" r="0.95" fill="#1ee07e"/>
<circle cx="196.47" cy="114.99" r="0.95" fill="#1ee07e"/>
<circle cx="199.92" cy="115" r="0.95" fill="#1ee07e"/>
<circle cx="203.37" cy="114.98" r="0.95" fill="#1ee07e"/>
<circle cx="206.82" cy="114.85" r="0.95" fill="#1ee07e"/>
<circle cx="210.27" cy="114.73" r="0.95" fill="#1ee07e"/>
<polyline points="134.37,111.41 138.89,111.91 144.67,109.62 147.68,112.41 151.69,109.72 155.21,112.41 158.47,108.92 161.48,112.41 165.25,110.41 168.76,106.43 174.03,115" fill="none" stroke="#1ee07e" stroke-width="1.1" stroke-linejoin="round" stroke-linecap="round" />
<polyline points="84.93,114.6 93.08,113.7 103.5,111.91 111.53,110.81 112.79,107.42 115.42,108.72 119.44,106.92 124.46,104.43 131.36,100.34" fill="none" stroke="#aaec50" stroke-width="0.75" stroke-linejoin="round" stroke-linecap="round" stroke-dasharray="1.2,1.2" opacity="0.7"/>
<circle cx="84.93" cy="114.6" r="0.95" fill="#aaec50"/>
<circle cx="88.38" cy="114.22" r="0.95" fill="#aaec50"/>
<circle cx="91.83" cy="113.84" r="0.95" fill="#aaec50"/>
<circle cx="95.28" cy="113.33" r="0.95" fill="#aaec50"/>
<circle cx="98.73" cy="112.73" r="0.95" fill="#aaec50"/>
<circle cx="102.18" cy="112.14" r="0.95" fill="#aaec50"/>
<circle cx="105.63" cy="111.62" r="0.95" fill="#aaec50"/>
<circle cx="109.08" cy="111.15" r="0.95" fill="#aaec50"/>
<circle cx="112.53" cy="108.13" r="0.95" fill="#aaec50"/>
<circle cx="115.98" cy="108.47" r="0.95" fill="#aaec50"/>
<circle cx="119.43" cy="106.93" r="0.95" fill="#aaec50"/>
<circle cx="122.88" cy="105.22" r="0.95" fill="#aaec50"/>
<circle cx="126.33" cy="103.33" r="0.95" fill="#aaec50"/>
<circle cx="129.78" cy="101.28" r="0.95" fill="#aaec50"/>
<polyline points="134.5,89.77 140.65,105.53 144.29,110.81 147.3,113.61 153.33,114.4 193.49,114.4 220.85,115.4 237.41,114.4 247.95,111.91" fill="none" stroke="#aaec50" stroke-width="0.75" stroke-linejoin="round" stroke-linecap="round" stroke-dasharray="1.2,1.2" opacity="0.7"/>
<circle cx="134.5" cy="89.77" r="0.95" fill="#aaec50"/>
<circle cx="137.95" cy="98.61" r="0.95" fill="#aaec50"/>
<circle cx="141.4" cy="106.62" r="0.95" fill="#aaec50"/>
<circle cx="144.85" cy="111.33" r="0.95" fill="#aaec50"/>
<circle cx="148.3" cy="113.74" r="0.95" fill="#aaec50"/>
<circle cx="151.75" cy="114.19" r="0.95" fill="#aaec50"/>
<circle cx="155.2" cy="114.4" r="0.95" fill="#aaec50"/>
<circle cx="158.65" cy="114.4" r="0.95" fill="#aaec50"/>
<circle cx="162.1" cy="114.4" r="0.95" fill="#aaec50"/>
<circle cx="165.55" cy="114.4" r="0.95" fill="#aaec50"/>
<circle cx="169" cy="114.4" r="0.95" fill="#aaec50"/>
<circle cx="172.45" cy="114.4" r="0.95" fill="#aaec50"/>
<circle cx="175.9" cy="114.4" r="0.95" fill="#aaec50"/>
<circle cx="179.35" cy="114.4" r="0.95" fill="#aaec50"/>
<circle cx="182.8" cy="114.4" r="0.95" fill="#aaec50"/>
<circle cx="186.25" cy="114.4" r="0.95" fill="#aaec50"/>
<circle cx="189.7" cy="114.4" r="0.95" fill="#aaec50"/>
<circle cx="193.15" cy="114.4" r="0.95" fill="#aaec50"/>
<circle cx="196.6" cy="114.52" r="0.95" fill="#aaec50"/>
<circle cx="200.05" cy="114.64" r="0.95" fill="#aaec50"/>
<circle cx="203.5" cy="114.77" r="0.95" fill="#aaec50"/>
<circle cx="206.95" cy="114.89" r="0.95" fill="#aaec50"/>
<circle cx="210.4" cy="115.02" r="0.95" fill="#aaec50"/>
<polyline points="136.63,111.41 140.77,111.91 145.8,110.91 150.82,111.91 155.84,110.91 162.11,111.91 168.39,111.21 174.66,111.91 180.94,111.41 184.83,111.91 187.21,115" fill="none" stroke="#aaec50" stroke-width="1.1" stroke-linejoin="round" stroke-linecap="round" />
<polyline points="84.17,111.41 86.81,113.11 96.22,112.71 105.38,111.21 109.27,109.12 113.29,108.62 115.93,109.22 121.32,106.23 126.34,103.23 131.11,99.55" fill="none" stroke="#f6a266" stroke-width="0.75" stroke-linejoin="round" stroke-linecap="round" stroke-dasharray="1.2,1.2" opacity="0.7"/>
<circle cx="84.17" cy="111.41" r="0.95" fill="#f6a266"/>
<circle cx="87.62" cy="113.07" r="0.95" fill="#f6a266"/>
<circle cx="91.07" cy="112.93" r="0.95" fill="#f6a266"/>
<circle cx="94.52" cy="112.78" r="0.95" fill="#f6a266"/>
<circle cx="97.97" cy="112.42" r="0.95" fill="#f6a266"/>
<circle cx="101.42" cy="111.86" r="0.95" fill="#f6a266"/>
<circle cx="104.87" cy="111.3" r="0.95" fill="#f6a266"/>
<circle cx="108.32" cy="109.63" r="0.95" fill="#f6a266"/>
<circle cx="111.77" cy="108.81" r="0.95" fill="#f6a266"/>
<circle cx="115.22" cy="109.06" r="0.95" fill="#f6a266"/>
<circle cx="118.67" cy="107.69" r="0.95" fill="#f6a266"/>
<circle cx="122.12" cy="105.75" r="0.95" fill="#f6a266"/>
<circle cx="125.57" cy="103.69" r="0.95" fill="#f6a266"/>
<circle cx="129.02" cy="101.16" r="0.95" fill="#f6a266"/>
<polyline points="134.5,87.58 138.52,91.77 141.15,99.15 143.79,107.62 150.44,110.21 153.95,113.61 167.76,112.11 189.47,113.8 234.27,112.71 246.7,110.91" fill="none" stroke="#f6a266" stroke-width="0.75" stroke-linejoin="round" stroke-linecap="round" stroke-dasharray="1.2,1.2" opacity="0.7"/>
<circle cx="134.5" cy="87.58" r="0.95" fill="#f6a266"/>
<circle cx="137.95" cy="91.18" r="0.95" fill="#f6a266"/>
<circle cx="141.4" cy="99.95" r="0.95" fill="#f6a266"/>
<circle cx="144.85" cy="108.04" r="0.95" fill="#f6a266"/>
<circle cx="148.3" cy="109.38" r="0.95" fill="#f6a266"/>
<circle cx="151.75" cy="111.48" r="0.95" fill="#f6a266"/>
<circle cx="155.2" cy="113.47" r="0.95" fill="#f6a266"/>
<circle cx="158.65" cy="113.1" r="0.95" fill="#f6a266"/>
<circle cx="162.1" cy="112.72" r="0.95" fill="#f6a266"/>
<circle cx="165.55" cy="112.35" r="0.95" fill="#f6a266"/>
<circle cx="169" cy="112.21" r="0.95" fill="#f6a266"/>
<circle cx="172.45" cy="112.48" r="0.95" fill="#f6a266"/>
<circle cx="175.9" cy="112.75" r="0.95" fill="#f6a266"/>
<circle cx="179.35" cy="113.01" r="0.95" fill="#f6a266"/>
<circle cx="182.8" cy="113.28" r="0.95" fill="#f6a266"/>
<circle cx="186.25" cy="113.55" r="0.95" fill="#f6a266"/>
<circle cx="189.7" cy="113.8" r="0.95" fill="#f6a266"/>
<circle cx="193.15" cy="113.71" r="0.95" fill="#f6a266"/>
<circle cx="196.6" cy="113.63" r="0.95" fill="#f6a266"/>
<circle cx="200.05" cy="113.55" r="0.95" fill="#f6a266"/>
<circle cx="203.5" cy="113.46" r="0.95" fill="#f6a266"/>
<circle cx="206.95" cy="113.38" r="0.95" fill="#f6a266"/>
<circle cx="210.4" cy="113.29" r="0.95" fill="#f6a266"/>
<polyline points="135.88,111.81 139.77,114.2 143.79,109.22 147.68,110.71 152.7,110.21 156.46,108.72 160.23,110.21 163.99,109.22 168.39,106.72 174.03,115.2" fill="none" stroke="#f6a266" stroke-width="1.1" stroke-linejoin="round" stroke-linecap="round" />
<polyline points="83.67,105.53 86.31,109.72 88.94,106.53 94.21,108.62 103.12,109.22 110.15,107.22 112.79,101.24 114.92,106.53 119.44,104.43 124.46,99.25 131.36,89.08" fill="none" stroke="#f22626" stroke-width="0.75" stroke-linejoin="round" stroke-linecap="round" stroke-dasharray="1.2,1.2" opacity="0.7"/>
<circle cx="83.67" cy="105.53" r="0.95" fill="#f22626"/>
<circle cx="87.12" cy="108.73" r="0.95" fill="#f22626"/>
<circle cx="90.57" cy="107.17" r="0.95" fill="#f22626"/>
<circle cx="94.02" cy="108.54" r="0.95" fill="#f22626"/>
<circle cx="97.47" cy="108.84" r="0.95" fill="#f22626"/>
<circle cx="100.92" cy="109.07" r="0.95" fill="#f22626"/>
<circle cx="104.37" cy="108.86" r="0.95" fill="#f22626"/>
<circle cx="107.82" cy="107.88" r="0.95" fill="#f22626"/>
<circle cx="111.27" cy="104.68" r="0.95" fill="#f22626"/>
<circle cx="114.72" cy="106.03" r="0.95" fill="#f22626"/>
<circle cx="118.17" cy="105.02" r="0.95" fill="#f22626"/>
<circle cx="121.62" cy="102.18" r="0.95" fill="#f22626"/>
<circle cx="125.07" cy="98.35" r="0.95" fill="#f22626"/>
<circle cx="128.52" cy="93.26" r="0.95" fill="#f22626"/>
<polyline points="135.38,110.12 140.77,112.71 155.84,111.71 162.11,113.21 235.91,112.21 243.44,111.21 247.95,108.82" fill="none" stroke="#f22626" stroke-width="0.75" stroke-linejoin="round" stroke-linecap="round" stroke-dasharray="1.2,1.2" opacity="0.7"/>
<circle cx="135.38" cy="110.12" r="0.95" fill="#f22626"/>
<circle cx="138.83" cy="111.77" r="0.95" fill="#f22626"/>
<circle cx="142.28" cy="112.61" r="0.95" fill="#f22626"/>
<circle cx="145.73" cy="112.38" r="0.95" fill="#f22626"/>
<circle cx="149.18" cy="112.15" r="0.95" fill="#f22626"/>
<circle cx="152.63" cy="111.92" r="0.95" fill="#f22626"/>
<circle cx="156.08" cy="111.77" r="0.95" fill="#f22626"/>
<circle cx="159.53" cy="112.59" r="0.95" fill="#f22626"/>
<circle cx="162.98" cy="113.19" r="0.95" fill="#f22626"/>
<circle cx="166.43" cy="113.15" r="0.95" fill="#f22626"/>
<circle cx="169.88" cy="113.1" r="0.95" fill="#f22626"/>
<circle cx="173.33" cy="113.05" r="0.95" fill="#f22626"/>
<circle cx="176.78" cy="113.01" r="0.95" fill="#f22626"/>
<circle cx="180.23" cy="112.96" r="0.95" fill="#f22626"/>
<circle cx="183.68" cy="112.91" r="0.95" fill="#f22626"/>
<circle cx="187.13" cy="112.87" r="0.95" fill="#f22626"/>
<circle cx="190.58" cy="112.82" r="0.95" fill="#f22626"/>
<circle cx="194.03" cy="112.78" r="0.95" fill="#f22626"/>
<circle cx="197.48" cy="112.73" r="0.95" fill="#f22626"/>
<circle cx="200.93" cy="112.68" r="0.95" fill="#f22626"/>
<circle cx="204.38" cy="112.64" r="0.95" fill="#f22626"/>
<circle cx="207.83" cy="112.59" r="0.95" fill="#f22626"/>
<circle cx="211.28" cy="112.54" r="0.95" fill="#f22626"/>
<polyline points="135.25,110.41 142.78,108.02 146.42,111.21 151.44,108.22 155.84,112.21 162.11,109.22 167.13,110.21 169.26,106.43 174.66,111.21 180.94,109.22 184.7,110.71 187.21,108.72 193.49,110.21 197.25,109.72 199.76,115.2" fill="none" stroke="#f22626" stroke-width="1.1" stroke-linejoin="round" stroke-linecap="round" />
<polyline points="83.95,112.63 91.96,111.61 98.76,108.95 104.46,105.21 106.65,109.46 108.96,105.21 112.36,104.13 116.97,99.89 121.46,92.47 124.86,82.9 127.17,72.32 130.2,63.26" fill="none" stroke="#3a7cf2" stroke-width="1.3" stroke-linejoin="round" stroke-linecap="round" />
<polyline points="84.35,112.63 92.36,111.61 99.16,108.95 104.86,105.21 107.05,109.46 109.36,105.21 112.76,104.13 117.37,99.89 121.86,92.47 125.26,82.9 127.57,72.32 130.6,63.26" fill="none" stroke="#2c2cee" stroke-width="1.3" stroke-linejoin="round" stroke-linecap="round" />
<polyline points="84.55,108.32 93.33,106.32 99.23,101.9 104.88,95.57 108.14,103.23 109.9,98.57 112.54,96.82 117.81,89.15 121.07,78.65 122.83,71.57 125.71,54.9 128.22,42.4 131.11,32.23" fill="none" stroke="#28c2f0" stroke-width="1.3" stroke-linejoin="round" stroke-linecap="round" />
<polyline points="84.8,112.01 89.95,110.91 97.1,109.02 101.24,106.43 105.38,102.64 107.64,106.72 111.16,102.04 115.93,93.66 118.81,85.49 120.69,76.81 122.95,65.54 126.34,50.59 130.86,32.14" fill="none" stroke="#1ee07e" stroke-width="1.3" stroke-linejoin="round" stroke-linecap="round" />
<polyline points="84.93,109.42 92.96,107.72 99.36,103.43 104.88,96.75 108.02,103.43 111.53,97.15 116.8,84.49 119.82,75.51 121.32,65.54 123.46,51.58 125.09,43.61 127.22,35.63 131.24,20.77" fill="none" stroke="#aaec50" stroke-width="1.3" stroke-linejoin="round" stroke-linecap="round" />
<polyline points="84.68,108.22 94.72,105.53 101.37,97.05 104.76,91.37 108.02,100.24 111.16,90.77 115.93,73.92 119.44,63.35 121.95,48.39 124.46,28.45 126.72,8.51" fill="none" stroke="#f6a266" stroke-width="1.3" stroke-linejoin="round" stroke-linecap="round" />
<polyline points="86.31,106.53 94.21,102.34 100.86,94.96 104.88,88.18 108.02,97.45 110.65,87.58 114.17,83.29 117.56,65.34 120.07,48.39 122.58,28.45 124.71,8.51" fill="none" stroke="#f22626" stroke-width="1.3" stroke-linejoin="round" stroke-linecap="round" />
</g>
<line x1="322" y1="29.8" x2="338.8" y2="29.8" stroke="#34e834" stroke-width="1.25"/>
<line x1="322" y1="39.1" x2="338.8" y2="39.1" stroke="#f5262e" stroke-width="1.25"/>
<text x="340.4" y="32.5" class="lgs" textLength="62.5" lengthAdjust="spacingAndGlyphs">300 °C: Semi-closed</text>
<text x="340.4" y="41.8" class="lgs" textLength="65.3" lengthAdjust="spacingAndGlyphs">300 °C: Open system</text>
<line x1="121.6" y1="161.3" x2="138.5" y2="161.3" stroke="#22e488" stroke-width="1.25"/>
<line x1="121.6" y1="170.7" x2="138.5" y2="170.7" stroke="#f5262e" stroke-width="1.25"/>
<text x="140" y="164" class="lgs" textLength="62.5" lengthAdjust="spacingAndGlyphs">350 °C: Semi-closed</text>
<text x="140" y="173.4" class="lgs" textLength="65.3" lengthAdjust="spacingAndGlyphs">350 °C: Open system</text>
<line x1="320.9" y1="160.6" x2="337.4" y2="160.6" stroke="#34e834" stroke-width="1.25"/>
<line x1="320.9" y1="170" x2="337.4" y2="170" stroke="#f5262e" stroke-width="1.25"/>
<text x="339" y="163.3" class="lgs" textLength="62.5" lengthAdjust="spacingAndGlyphs">400 °C: Semi-closed</text>
<text x="339" y="172.7" class="lgs" textLength="65.3" lengthAdjust="spacingAndGlyphs">400 °C: Open system</text>
<line x1="123.2" y1="288.9" x2="139.6" y2="288.9" stroke="#22e488" stroke-width="1.25"/>
<line x1="123.2" y1="297.6" x2="139.6" y2="297.6" stroke="#f5262e" stroke-width="1.25"/>
<text x="141.3" y="291.6" class="lgs" textLength="62.5" lengthAdjust="spacingAndGlyphs">450 °C: Semi-closed</text>
<text x="141.3" y="300.3" class="lgs" textLength="65.3" lengthAdjust="spacingAndGlyphs">450 °C: Open system</text>
<line x1="316.2" y1="290.9" x2="332.7" y2="290.9" stroke="#22e488" stroke-width="1.25"/>
<line x1="316.2" y1="300.3" x2="332.7" y2="300.3" stroke="#f5262e" stroke-width="1.25"/>
<text x="334.3" y="293.6" class="lgs" textLength="62.5" lengthAdjust="spacingAndGlyphs">500 °C: Semi-closed</text>
<text x="334.3" y="303" class="lgs" textLength="65.3" lengthAdjust="spacingAndGlyphs">500 °C: Open system</text>
<line x1="122" y1="424.9" x2="138.5" y2="424.9" stroke="#22e488" stroke-width="1.25"/>
<line x1="122" y1="433.8" x2="138.5" y2="433.8" stroke="#f5262e" stroke-width="1.25"/>
<text x="140.1" y="427.6" class="lgs" textLength="62.5" lengthAdjust="spacingAndGlyphs">550 °C: Semi-closed</text>
<text x="140.1" y="436.5" class="lgs" textLength="65.3" lengthAdjust="spacingAndGlyphs">550 °C: Open system</text>
<line x1="317.2" y1="420.1" x2="333.6" y2="420.1" stroke="#22e488" stroke-width="1.25"/>
<line x1="317.2" y1="429.2" x2="333.6" y2="429.2" stroke="#f5262e" stroke-width="1.25"/>
<text x="335.5" y="422.8" class="lgs" textLength="62.5" lengthAdjust="spacingAndGlyphs">600 °C: Semi-closed</text>
<text x="335.5" y="431.9" class="lgs" textLength="65.3" lengthAdjust="spacingAndGlyphs">600 °C: Open system</text>
<line x1="42.4" y1="34.4" x2="55.6" y2="34.4" stroke="#2c2cee" stroke-width="0.8" stroke-dasharray="1.6,1" opacity="0.85"/>
<circle cx="49.3" cy="34.4" r="1.2" fill="#2c2cee"/>
<text x="57.5" y="36.6" class="lga" textLength="56.5" lengthAdjust="spacingAndGlyphs">300 <tspan class="deg">°C</tspan>: Open system</text>
<line x1="139.8" y1="34.3" x2="153.3" y2="34.3" stroke="#2c2cee" stroke-width="1.15"/>
<text x="155" y="36.5" class="lga" textLength="54" lengthAdjust="spacingAndGlyphs">300 <tspan class="deg">°C</tspan>: Semi-closed</text>
<line x1="42.4" y1="41.8" x2="55.6" y2="41.8" stroke="#3a7cf2" stroke-width="0.8" stroke-dasharray="1.6,1" opacity="0.85"/>
<circle cx="49.3" cy="41.8" r="1.2" fill="#3a7cf2"/>
<text x="57.5" y="44" class="lga" textLength="56.5" lengthAdjust="spacingAndGlyphs">350 <tspan class="deg">°C</tspan>: Open system</text>
<line x1="139.8" y1="41.8" x2="153.3" y2="41.8" stroke="#3a7cf2" stroke-width="1.15"/>
<text x="155" y="44" class="lga" textLength="54" lengthAdjust="spacingAndGlyphs">350 <tspan class="deg">°C</tspan>: Semi-closed</text>
<line x1="42.4" y1="49.2" x2="55.6" y2="49.2" stroke="#28c2f0" stroke-width="0.8" stroke-dasharray="1.6,1" opacity="0.85"/>
<circle cx="49.3" cy="49.2" r="1.2" fill="#28c2f0"/>
<text x="57.5" y="51.4" class="lga" textLength="56.5" lengthAdjust="spacingAndGlyphs">400 <tspan class="deg">°C</tspan>: Open system</text>
<line x1="139.8" y1="49.4" x2="153.3" y2="49.4" stroke="#28c2f0" stroke-width="1.15"/>
<text x="155" y="51.6" class="lga" textLength="54" lengthAdjust="spacingAndGlyphs">400 <tspan class="deg">°C</tspan>: Semi-closed</text>
<line x1="42.4" y1="56.5" x2="55.6" y2="56.5" stroke="#1ee07e" stroke-width="0.8" stroke-dasharray="1.6,1" opacity="0.85"/>
<circle cx="49.3" cy="56.5" r="1.2" fill="#1ee07e"/>
<text x="57.5" y="58.7" class="lga" textLength="56.5" lengthAdjust="spacingAndGlyphs">450 <tspan class="deg">°C</tspan>: Open system</text>
<line x1="139.8" y1="56.5" x2="153.3" y2="56.5" stroke="#1ee07e" stroke-width="1.15"/>
<text x="155" y="58.7" class="lga" textLength="54" lengthAdjust="spacingAndGlyphs">450 <tspan class="deg">°C</tspan>: Semi-closed</text>
<line x1="42.4" y1="63.6" x2="55.6" y2="63.6" stroke="#aaec50" stroke-width="0.8" stroke-dasharray="1.6,1" opacity="0.85"/>
<circle cx="49.3" cy="63.6" r="1.2" fill="#aaec50"/>
<text x="57.5" y="65.8" class="lga" textLength="56.5" lengthAdjust="spacingAndGlyphs">500 <tspan class="deg">°C</tspan>: Open system</text>
<line x1="139.8" y1="63.6" x2="153.3" y2="63.6" stroke="#aaec50" stroke-width="1.15"/>
<text x="155" y="65.8" class="lga" textLength="54" lengthAdjust="spacingAndGlyphs">500 <tspan class="deg">°C</tspan>: Semi-closed</text>
<line x1="42.4" y1="70.9" x2="55.6" y2="70.9" stroke="#f6a266" stroke-width="0.8" stroke-dasharray="1.6,1" opacity="0.85"/>
<circle cx="49.3" cy="70.9" r="1.2" fill="#f6a266"/>
<text x="57.5" y="73.1" class="lga" textLength="56.5" lengthAdjust="spacingAndGlyphs">550 <tspan class="deg">°C</tspan>: Open system</text>
<line x1="139.8" y1="70.9" x2="153.3" y2="70.9" stroke="#f6a266" stroke-width="1.15"/>
<text x="155" y="73.1" class="lga" textLength="54" lengthAdjust="spacingAndGlyphs">550 <tspan class="deg">°C</tspan>: Semi-closed</text>
<line x1="42.4" y1="78.3" x2="55.6" y2="78.3" stroke="#f22626" stroke-width="0.8" stroke-dasharray="1.6,1" opacity="0.85"/>
<circle cx="49.3" cy="78.3" r="1.2" fill="#f22626"/>
<text x="57.5" y="80.5" class="lga" textLength="56.5" lengthAdjust="spacingAndGlyphs">600 <tspan class="deg">°C</tspan>: Open system</text>
<line x1="139.8" y1="78.4" x2="153.3" y2="78.4" stroke="#f22626" stroke-width="1.15"/>
<text x="155" y="80.6" class="lga" textLength="54" lengthAdjust="spacingAndGlyphs">600 <tspan class="deg">°C</tspan>: Semi-closed</text>
<text x="55.4" y="24.9" text-anchor="middle" class="pl">(a)</text>
<text x="253" y="25.9" text-anchor="middle" class="pl">(b)</text>
<text x="51.9" y="158.9" text-anchor="middle" class="pl">(c)</text>
<text x="251.4" y="158" text-anchor="middle" class="pl">(d)</text>
<text x="51.5" y="291.7" text-anchor="middle" class="pl">(e)</text>
<text x="250.9" y="289.4" text-anchor="middle" class="pl">(f)</text>
<text x="53.1" y="422.7" text-anchor="middle" class="pl">(g)</text>
<text x="251.5" y="423.7" text-anchor="middle" class="pl">(h)</text>
<g class="ti" transform="translate(16,130.4) rotate(-90)"><text x="0" y="0">Pore volume (10</text><text x="80.4" y="-6" text-anchor="middle" class="sup">-</text><text x="85.9" y="-6" text-anchor="middle" class="sup">4</text><text x="86.8" y="0">cm</text><text x="103.2" y="-6" text-anchor="middle" class="sup">3</text><text x="104.7" y="0">/g)</text></g>
<g class="ti" transform="translate(13.4,261.9) rotate(-90)"><text x="0" y="0">Pore volume (10</text><text x="80.4" y="-6" text-anchor="middle" class="sup">-</text><text x="85.9" y="-6" text-anchor="middle" class="sup">4</text><text x="86.8" y="0">cm</text><text x="103.2" y="-6" text-anchor="middle" class="sup">3</text><text x="104.7" y="0">/g)</text></g>
<g class="ti" transform="translate(13.8,394.7) rotate(-90)"><text x="0" y="0">Pore volume (10</text><text x="80.4" y="-6" text-anchor="middle" class="sup">-</text><text x="85.9" y="-6" text-anchor="middle" class="sup">4</text><text x="86.8" y="0">cm</text><text x="103.2" y="-6" text-anchor="middle" class="sup">3</text><text x="104.7" y="0">/g)</text></g>
<g class="ti" transform="translate(13.2,527.6) rotate(-90)"><text x="0" y="0">Pore volume (10</text><text x="80.4" y="-6" text-anchor="middle" class="sup">-</text><text x="85.9" y="-6" text-anchor="middle" class="sup">4</text><text x="86.8" y="0">cm</text><text x="103.2" y="-6" text-anchor="middle" class="sup">3</text><text x="104.7" y="0">/g)</text></g>
<text class="xt" x="80.3" y="543.2">Pore diameter (nm)</text>
<text class="xt" x="277.6" y="543.2">Pore diameter (nm)</text>
</svg></body></html>
